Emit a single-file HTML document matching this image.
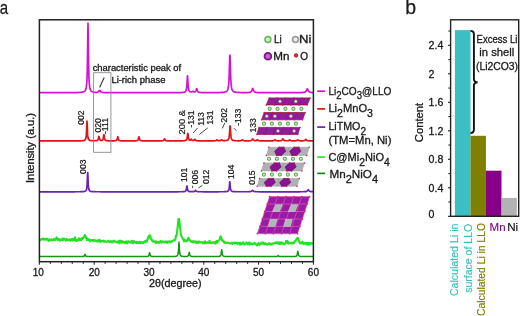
<!DOCTYPE html><html><head><meta charset="utf-8"><style>html,body{margin:0;padding:0;background:#fff;width:520px;height:316px;overflow:hidden}svg{display:block}</style></head><body><svg width="520" height="316" viewBox="0 0 520 316" font-family='"Liberation Sans", Arial, sans-serif'>
<rect width="520" height="316" fill="#fff"/>
<g fill="#1a1a1a" stroke="#1a1a1a" stroke-width="0.25">
<text transform="translate(-0.3,14.0) scale(0.8,1)" font-size="18.8">a</text>
<text x="405.2" y="14.3" font-size="19.5">b</text>
</g>
<polyline fill="none" stroke="#d312d3" stroke-width="1.7" stroke-linejoin="round" points="40.00,92.69 40.25,92.69 40.50,92.69 40.75,92.69 41.00,92.69 41.25,92.69 41.50,92.69 41.75,92.69 42.00,92.69 42.25,92.69 42.50,92.69 42.75,92.69 43.00,92.69 43.25,92.69 43.50,92.69 43.75,92.69 44.00,92.69 44.25,92.69 44.50,92.69 44.75,92.69 45.00,92.69 45.25,92.69 45.50,92.69 45.75,92.69 46.00,92.69 46.25,92.69 46.50,92.69 46.75,92.69 47.00,92.69 47.25,92.69 47.50,92.69 47.75,92.69 48.00,92.69 48.25,92.69 48.50,92.69 48.75,92.69 49.00,92.69 49.25,92.69 49.50,92.69 49.75,92.69 50.00,92.69 50.25,92.69 50.50,92.69 50.75,92.69 51.00,92.69 51.25,92.69 51.50,92.69 51.75,92.68 52.00,92.68 52.25,92.68 52.50,92.68 52.75,92.68 53.00,92.68 53.25,92.68 53.50,92.68 53.75,92.68 54.00,92.68 54.25,92.68 54.50,92.68 54.75,92.68 55.00,92.68 55.25,92.68 55.50,92.68 55.75,92.68 56.00,92.68 56.25,92.68 56.50,92.68 56.75,92.68 57.00,92.68 57.25,92.68 57.50,92.68 57.75,92.68 58.00,92.68 58.25,92.68 58.50,92.68 58.75,92.68 59.00,92.68 59.25,92.68 59.50,92.68 59.75,92.68 60.00,92.68 60.25,92.68 60.50,92.67 60.75,92.67 61.00,92.67 61.25,92.67 61.50,92.67 61.75,92.67 62.00,92.67 62.25,92.67 62.50,92.67 62.75,92.67 63.00,92.67 63.25,92.67 63.50,92.67 63.75,92.67 64.00,92.67 64.25,92.67 64.50,92.67 64.75,92.67 65.00,92.66 65.25,92.66 65.50,92.66 65.75,92.66 66.00,92.66 66.25,92.66 66.50,92.66 66.75,92.66 67.00,92.66 67.25,92.66 67.50,92.66 67.75,92.65 68.00,92.65 68.25,92.65 68.50,92.65 68.75,92.65 69.00,92.65 69.25,92.65 69.50,92.65 69.75,92.64 70.00,92.64 70.25,92.64 70.50,92.64 70.75,92.64 71.00,92.64 71.25,92.63 71.50,92.63 71.75,92.63 72.00,92.63 72.25,92.63 72.50,92.62 72.75,92.62 73.00,92.62 73.25,92.62 73.50,92.61 73.75,92.61 74.00,92.61 74.25,92.60 74.50,92.60 74.75,92.60 75.00,92.59 75.25,92.59 75.50,92.58 75.75,92.58 76.00,92.57 76.25,92.57 76.50,92.56 76.75,92.56 77.00,92.55 77.25,92.54 77.50,92.54 77.75,92.53 78.00,92.52 78.25,92.51 78.50,92.50 78.75,92.49 79.00,92.48 79.25,92.47 79.50,92.45 79.75,92.44 80.00,92.42 80.25,92.41 80.50,92.39 80.75,92.36 81.00,92.34 81.25,92.31 81.50,92.28 81.75,92.25 82.00,92.21 82.25,92.17 82.50,92.12 82.75,92.07 83.00,92.00 83.25,91.93 83.50,91.84 83.75,91.74 84.00,91.62 84.25,91.48 84.50,91.30 84.75,91.08 85.00,90.81 85.25,90.47 85.50,90.02 85.75,89.42 86.00,88.60 86.25,87.44 86.50,85.74 86.75,83.10 87.00,78.79 87.25,71.30 87.50,57.94 87.75,37.09 88.00,23.18 88.25,37.08 88.50,57.93 88.75,71.30 89.00,78.78 89.25,83.10 89.50,85.73 89.75,87.43 90.00,88.59 90.25,89.41 90.50,90.00 90.75,90.45 91.00,90.80 91.25,91.07 91.50,91.28 91.75,91.46 92.00,91.60 92.25,91.72 92.50,91.82 92.75,91.90 93.00,91.97 93.25,92.03 93.50,92.08 93.75,92.13 94.00,92.16 94.25,92.19 94.50,92.22 94.75,92.25 95.00,92.26 95.25,92.28 95.50,92.29 95.75,92.30 96.00,92.30 96.25,92.30 96.50,92.29 96.75,92.28 97.00,92.25 97.25,92.22 97.50,92.18 97.75,92.11 98.00,92.02 98.25,91.89 98.50,91.71 98.75,91.46 99.00,91.12 99.25,90.72 99.50,90.37 99.75,90.28 100.00,90.51 100.25,90.91 100.50,91.30 100.75,91.62 101.00,91.85 101.25,92.02 101.50,92.14 101.75,92.23 102.00,92.30 102.25,92.36 102.50,92.40 102.75,92.43 103.00,92.46 103.25,92.48 103.50,92.50 103.75,92.52 104.00,92.53 104.25,92.55 104.50,92.56 104.75,92.56 105.00,92.57 105.25,92.58 105.50,92.59 105.75,92.59 106.00,92.60 106.25,92.60 106.50,92.61 106.75,92.61 107.00,92.61 107.25,92.62 107.50,92.62 107.75,92.62 108.00,92.63 108.25,92.63 108.50,92.63 108.75,92.63 109.00,92.64 109.25,92.64 109.50,92.64 109.75,92.64 110.00,92.64 110.25,92.65 110.50,92.65 110.75,92.65 111.00,92.65 111.25,92.65 111.50,92.65 111.75,92.65 112.00,92.65 112.25,92.66 112.50,92.66 112.75,92.66 113.00,92.66 113.25,92.66 113.50,92.66 113.75,92.66 114.00,92.66 114.25,92.66 114.50,92.66 114.75,92.66 115.00,92.67 115.25,92.67 115.50,92.67 115.75,92.67 116.00,92.67 116.25,92.67 116.50,92.67 116.75,92.67 117.00,92.67 117.25,92.67 117.50,92.67 117.75,92.67 118.00,92.67 118.25,92.67 118.50,92.67 118.75,92.67 119.00,92.67 119.25,92.67 119.50,92.67 119.75,92.67 120.00,92.68 120.25,92.68 120.50,92.68 120.75,92.68 121.00,92.68 121.25,92.68 121.50,92.68 121.75,92.68 122.00,92.68 122.25,92.68 122.50,92.68 122.75,92.68 123.00,92.68 123.25,92.68 123.50,92.68 123.75,92.68 124.00,92.68 124.25,92.68 124.50,92.68 124.75,92.68 125.00,92.68 125.25,92.68 125.50,92.68 125.75,92.68 126.00,92.68 126.25,92.68 126.50,92.68 126.75,92.68 127.00,92.68 127.25,92.68 127.50,92.68 127.75,92.68 128.00,92.68 128.25,92.68 128.50,92.68 128.75,92.68 129.00,92.68 129.25,92.68 129.50,92.68 129.75,92.68 130.00,92.68 130.25,92.68 130.50,92.68 130.75,92.68 131.00,92.68 131.25,92.68 131.50,92.68 131.75,92.68 132.00,92.68 132.25,92.68 132.50,92.69 132.75,92.69 133.00,92.69 133.25,92.69 133.50,92.69 133.75,92.69 134.00,92.69 134.25,92.69 134.50,92.69 134.75,92.69 135.00,92.69 135.25,92.69 135.50,92.69 135.75,92.69 136.00,92.69 136.25,92.69 136.50,92.69 136.75,92.69 137.00,92.69 137.25,92.69 137.50,92.69 137.75,92.69 138.00,92.69 138.25,92.69 138.50,92.69 138.75,92.69 139.00,92.69 139.25,92.69 139.50,92.69 139.75,92.69 140.00,92.69 140.25,92.69 140.50,92.69 140.75,92.69 141.00,92.69 141.25,92.69 141.50,92.69 141.75,92.69 142.00,92.69 142.25,92.69 142.50,92.69 142.75,92.69 143.00,92.69 143.25,92.69 143.50,92.69 143.75,92.69 144.00,92.69 144.25,92.69 144.50,92.69 144.75,92.69 145.00,92.69 145.25,92.69 145.50,92.69 145.75,92.69 146.00,92.69 146.25,92.69 146.50,92.69 146.75,92.69 147.00,92.69 147.25,92.69 147.50,92.69 147.75,92.69 148.00,92.69 148.25,92.69 148.50,92.69 148.75,92.69 149.00,92.69 149.25,92.69 149.50,92.69 149.75,92.69 150.00,92.69 150.25,92.69 150.50,92.69 150.75,92.69 151.00,92.69 151.25,92.69 151.50,92.69 151.75,92.69 152.00,92.69 152.25,92.69 152.50,92.69 152.75,92.69 153.00,92.69 153.25,92.69 153.50,92.69 153.75,92.69 154.00,92.69 154.25,92.69 154.50,92.69 154.75,92.69 155.00,92.69 155.25,92.69 155.50,92.69 155.75,92.69 156.00,92.69 156.25,92.69 156.50,92.69 156.75,92.68 157.00,92.68 157.25,92.68 157.50,92.68 157.75,92.68 158.00,92.68 158.25,92.68 158.50,92.68 158.75,92.68 159.00,92.68 159.25,92.68 159.50,92.68 159.75,92.68 160.00,92.68 160.25,92.68 160.50,92.68 160.75,92.68 161.00,92.68 161.25,92.68 161.50,92.68 161.75,92.68 162.00,92.68 162.25,92.68 162.50,92.68 162.75,92.68 163.00,92.68 163.25,92.68 163.50,92.68 163.75,92.68 164.00,92.68 164.25,92.68 164.50,92.68 164.75,92.68 165.00,92.68 165.25,92.68 165.50,92.68 165.75,92.68 166.00,92.68 166.25,92.68 166.50,92.68 166.75,92.68 167.00,92.68 167.25,92.68 167.50,92.68 167.75,92.68 168.00,92.67 168.25,92.67 168.50,92.67 168.75,92.67 169.00,92.67 169.25,92.67 169.50,92.67 169.75,92.67 170.00,92.67 170.25,92.67 170.50,92.67 170.75,92.67 171.00,92.67 171.25,92.67 171.50,92.67 171.75,92.67 172.00,92.67 172.25,92.66 172.50,92.66 172.75,92.66 173.00,92.66 173.25,92.66 173.50,92.66 173.75,92.66 174.00,92.66 174.25,92.66 174.50,92.66 174.75,92.65 175.00,92.65 175.25,92.65 175.50,92.65 175.75,92.65 176.00,92.65 176.25,92.64 176.50,92.64 176.75,92.64 177.00,92.64 177.25,92.63 177.50,92.63 177.75,92.63 178.00,92.63 178.25,92.62 178.50,92.62 178.75,92.61 179.00,92.61 179.25,92.61 179.50,92.60 179.75,92.60 180.00,92.59 180.25,92.58 180.50,92.57 180.75,92.57 181.00,92.56 181.25,92.55 181.50,92.54 181.75,92.52 182.00,92.51 182.25,92.49 182.50,92.47 182.75,92.45 183.00,92.42 183.25,92.39 183.50,92.36 183.75,92.32 184.00,92.26 184.25,92.20 184.50,92.12 184.75,92.02 185.00,91.89 185.25,91.72 185.50,91.48 185.75,91.15 186.00,90.68 186.25,89.94 186.50,88.77 186.75,86.81 187.00,83.50 187.25,78.80 187.50,75.94 187.75,78.79 188.00,83.48 188.25,86.78 188.50,88.74 188.75,89.90 189.00,90.62 189.25,91.09 189.50,91.41 189.75,91.62 190.00,91.78 190.25,91.89 190.50,91.96 190.75,92.01 191.00,92.02 191.25,92.02 191.50,91.98 191.75,91.91 192.00,91.79 192.25,91.64 192.50,91.48 192.75,91.39 193.00,91.43 193.25,91.58 193.50,91.74 193.75,91.87 194.00,91.95 194.25,91.99 194.50,91.99 194.75,91.96 195.00,91.87 195.25,91.72 195.50,91.49 195.75,91.12 196.00,90.54 196.25,89.72 196.50,88.87 196.75,88.59 197.00,89.20 197.25,90.12 197.50,90.86 197.75,91.37 198.00,91.71 198.25,91.93 198.50,92.09 198.75,92.20 199.00,92.28 199.25,92.34 199.50,92.39 199.75,92.43 200.00,92.46 200.25,92.48 200.50,92.50 200.75,92.52 201.00,92.53 201.25,92.55 201.50,92.56 201.75,92.57 202.00,92.57 202.25,92.58 202.50,92.59 202.75,92.59 203.00,92.60 203.25,92.60 203.50,92.60 203.75,92.61 204.00,92.61 204.25,92.61 204.50,92.62 204.75,92.62 205.00,92.62 205.25,92.62 205.50,92.62 205.75,92.62 206.00,92.63 206.25,92.63 206.50,92.63 206.75,92.63 207.00,92.63 207.25,92.63 207.50,92.63 207.75,92.63 208.00,92.63 208.25,92.63 208.50,92.63 208.75,92.63 209.00,92.63 209.25,92.63 209.50,92.63 209.75,92.63 210.00,92.63 210.25,92.63 210.50,92.63 210.75,92.63 211.00,92.63 211.25,92.63 211.50,92.63 211.75,92.63 212.00,92.63 212.25,92.63 212.50,92.62 212.75,92.62 213.00,92.62 213.25,92.62 213.50,92.62 213.75,92.62 214.00,92.62 214.25,92.61 214.50,92.61 214.75,92.61 215.00,92.61 215.25,92.61 215.50,92.60 215.75,92.60 216.00,92.60 216.25,92.60 216.50,92.59 216.75,92.59 217.00,92.59 217.25,92.58 217.50,92.58 217.75,92.57 218.00,92.57 218.25,92.57 218.50,92.56 218.75,92.55 219.00,92.55 219.25,92.54 219.50,92.54 219.75,92.53 220.00,92.52 220.25,92.51 220.50,92.50 220.75,92.49 221.00,92.48 221.25,92.47 221.50,92.46 221.75,92.44 222.00,92.43 222.25,92.41 222.50,92.39 222.75,92.37 223.00,92.35 223.25,92.32 223.50,92.29 223.75,92.26 224.00,92.23 224.25,92.18 224.50,92.14 224.75,92.08 225.00,92.02 225.25,91.95 225.50,91.86 225.75,91.77 226.00,91.65 226.25,91.50 226.50,91.33 226.75,91.11 227.00,90.85 227.25,90.50 227.50,90.06 227.75,89.46 228.00,88.65 228.25,87.51 228.50,85.86 228.75,83.37 229.00,79.49 229.25,73.44 229.50,64.76 229.75,56.13 230.00,55.08 230.25,62.84 230.50,71.90 230.75,78.48 231.00,82.72 231.25,85.44 231.50,87.23 231.75,88.46 232.00,89.32 232.25,89.95 232.50,90.42 232.75,90.78 233.00,91.06 233.25,91.29 233.50,91.47 233.75,91.62 234.00,91.74 234.25,91.84 234.50,91.93 234.75,92.00 235.00,92.07 235.25,92.12 235.50,92.17 235.75,92.21 236.00,92.25 236.25,92.28 236.50,92.31 236.75,92.34 237.00,92.36 237.25,92.38 237.50,92.40 237.75,92.42 238.00,92.43 238.25,92.45 238.50,92.46 238.75,92.47 239.00,92.48 239.25,92.49 239.50,92.50 239.75,92.51 240.00,92.52 240.25,92.52 240.50,92.53 240.75,92.53 241.00,92.54 241.25,92.54 241.50,92.55 241.75,92.55 242.00,92.55 242.25,92.56 242.50,92.56 242.75,92.56 243.00,92.56 243.25,92.57 243.50,92.57 243.75,92.57 244.00,92.57 244.25,92.57 244.50,92.57 244.75,92.57 245.00,92.57 245.25,92.57 245.50,92.56 245.75,92.56 246.00,92.56 246.25,92.55 246.50,92.55 246.75,92.54 247.00,92.54 247.25,92.53 247.50,92.52 247.75,92.51 248.00,92.50 248.25,92.48 248.50,92.46 248.75,92.44 249.00,92.42 249.25,92.38 249.50,92.35 249.75,92.30 250.00,92.24 250.25,92.16 250.50,92.06 250.75,91.92 251.00,91.74 251.25,91.49 251.50,91.15 251.75,90.68 252.00,90.05 252.25,89.30 252.50,88.66 252.75,88.48 253.00,88.89 253.25,89.61 253.50,90.32 253.75,90.89 254.00,91.31 254.25,91.61 254.50,91.83 254.75,91.99 255.00,92.11 255.25,92.21 255.50,92.28 255.75,92.33 256.00,92.38 256.25,92.42 256.50,92.45 256.75,92.48 257.00,92.50 257.25,92.52 257.50,92.53 257.75,92.55 258.00,92.56 258.25,92.57 258.50,92.58 258.75,92.59 259.00,92.59 259.25,92.60 259.50,92.60 259.75,92.61 260.00,92.61 260.25,92.62 260.50,92.62 260.75,92.63 261.00,92.63 261.25,92.63 261.50,92.64 261.75,92.64 262.00,92.64 262.25,92.64 262.50,92.65 262.75,92.65 263.00,92.65 263.25,92.65 263.50,92.65 263.75,92.65 264.00,92.66 264.25,92.66 264.50,92.66 264.75,92.66 265.00,92.66 265.25,92.66 265.50,92.66 265.75,92.66 266.00,92.66 266.25,92.66 266.50,92.67 266.75,92.67 267.00,92.67 267.25,92.67 267.50,92.67 267.75,92.67 268.00,92.67 268.25,92.67 268.50,92.67 268.75,92.67 269.00,92.67 269.25,92.67 269.50,92.67 269.75,92.67 270.00,92.67 270.25,92.67 270.50,92.67 270.75,92.67 271.00,92.67 271.25,92.68 271.50,92.68 271.75,92.68 272.00,92.68 272.25,92.68 272.50,92.68 272.75,92.68 273.00,92.68 273.25,92.68 273.50,92.68 273.75,92.68 274.00,92.68 274.25,92.68 274.50,92.68 274.75,92.68 275.00,92.68 275.25,92.68 275.50,92.68 275.75,92.68 276.00,92.68 276.25,92.68 276.50,92.68 276.75,92.68 277.00,92.68 277.25,92.68 277.50,92.68 277.75,92.68 278.00,92.68 278.25,92.68 278.50,92.68 278.75,92.68 279.00,92.68 279.25,92.68 279.50,92.68 279.75,92.68 280.00,92.68 280.25,92.68 280.50,92.68 280.75,92.68 281.00,92.68 281.25,92.68 281.50,92.68 281.75,92.68 282.00,92.68 282.25,92.68 282.50,92.68 282.75,92.68 283.00,92.68 283.25,92.68 283.50,92.68 283.75,92.68 284.00,92.68 284.25,92.68 284.50,92.68 284.75,92.68 285.00,92.68 285.25,92.68 285.50,92.68 285.75,92.68 286.00,92.68 286.25,92.68 286.50,92.68 286.75,92.68 287.00,92.68 287.25,92.68 287.50,92.68 287.75,92.68 288.00,92.68 288.25,92.68 288.50,92.68 288.75,92.68 289.00,92.68 289.25,92.68 289.50,92.68 289.75,92.68 290.00,92.68 290.25,92.68 290.50,92.68 290.75,92.68 291.00,92.67 291.25,92.67 291.50,92.67 291.75,92.67 292.00,92.67 292.25,92.67 292.50,92.67 292.75,92.67 293.00,92.67 293.25,92.67 293.50,92.67 293.75,92.67 294.00,92.67 294.25,92.67 294.50,92.67 294.75,92.66 295.00,92.66 295.25,92.66 295.50,92.66 295.75,92.66 296.00,92.66 296.25,92.66 296.50,92.65 296.75,92.65 297.00,92.65 297.25,92.65 297.50,92.65 297.75,92.64 298.00,92.64 298.25,92.64 298.50,92.64 298.75,92.63 299.00,92.63 299.25,92.62 299.50,92.62 299.75,92.62 300.00,92.61 300.25,92.60 300.50,92.60 300.75,92.59 301.00,92.58 301.25,92.57 301.50,92.56 301.75,92.55 302.00,92.54 302.25,92.52 302.50,92.50 302.75,92.48 303.00,92.46 303.25,92.43 303.50,92.40 303.75,92.36 304.00,92.31 304.25,92.26 304.50,92.19 304.75,92.10 305.00,91.99 305.25,91.85 305.50,91.66 305.75,91.42 306.00,91.11 306.25,90.71 306.50,90.21 306.75,89.66 307.00,89.16 307.25,88.90 307.50,89.02 307.75,89.44 308.00,89.99 308.25,90.52 308.50,90.96 308.75,91.31 309.00,91.57 309.25,91.78 309.50,91.94 309.75,92.06 310.00,92.15 310.25,92.23 310.50,92.29 310.75,92.34 311.00,92.39 311.25,92.42 311.50,92.45 311.75,92.48 312.00,92.50 312.25,92.52 312.50,92.53 312.75,92.55 313.00,92.56"/>
<polyline fill="none" stroke="#dd1515" stroke-width="1.7" stroke-linejoin="round" points="40.00,140.90 40.25,140.90 40.50,140.90 40.75,140.90 41.00,140.90 41.25,140.90 41.50,140.90 41.75,140.90 42.00,140.90 42.25,140.90 42.50,140.90 42.75,140.90 43.00,140.90 43.25,140.90 43.50,140.90 43.75,140.90 44.00,140.90 44.25,140.90 44.50,140.90 44.75,140.90 45.00,140.90 45.25,140.90 45.50,140.90 45.75,140.90 46.00,140.90 46.25,140.90 46.50,140.90 46.75,140.90 47.00,140.90 47.25,140.90 47.50,140.90 47.75,140.90 48.00,140.90 48.25,140.90 48.50,140.90 48.75,140.90 49.00,140.90 49.25,140.90 49.50,140.90 49.75,140.90 50.00,140.90 50.25,140.90 50.50,140.90 50.75,140.89 51.00,140.89 51.25,140.89 51.50,140.89 51.75,140.89 52.00,140.89 52.25,140.89 52.50,140.89 52.75,140.89 53.00,140.89 53.25,140.89 53.50,140.89 53.75,140.89 54.00,140.89 54.25,140.89 54.50,140.89 54.75,140.89 55.00,140.89 55.25,140.89 55.50,140.89 55.75,140.89 56.00,140.89 56.25,140.89 56.50,140.89 56.75,140.89 57.00,140.89 57.25,140.89 57.50,140.89 57.75,140.89 58.00,140.89 58.25,140.89 58.50,140.89 58.75,140.89 59.00,140.89 59.25,140.89 59.50,140.89 59.75,140.89 60.00,140.89 60.25,140.89 60.50,140.89 60.75,140.89 61.00,140.89 61.25,140.89 61.50,140.89 61.75,140.89 62.00,140.89 62.25,140.89 62.50,140.89 62.75,140.89 63.00,140.89 63.25,140.89 63.50,140.89 63.75,140.89 64.00,140.89 64.25,140.89 64.50,140.89 64.75,140.89 65.00,140.89 65.25,140.89 65.50,140.89 65.75,140.89 66.00,140.89 66.25,140.89 66.50,140.89 66.75,140.89 67.00,140.89 67.25,140.89 67.50,140.89 67.75,140.89 68.00,140.89 68.25,140.88 68.50,140.88 68.75,140.88 69.00,140.88 69.25,140.88 69.50,140.88 69.75,140.88 70.00,140.88 70.25,140.88 70.50,140.88 70.75,140.88 71.00,140.88 71.25,140.88 71.50,140.88 71.75,140.88 72.00,140.88 72.25,140.88 72.50,140.88 72.75,140.88 73.00,140.87 73.25,140.87 73.50,140.87 73.75,140.87 74.00,140.87 74.25,140.87 74.50,140.87 74.75,140.87 75.00,140.87 75.25,140.87 75.50,140.86 75.75,140.86 76.00,140.86 76.25,140.86 76.50,140.86 76.75,140.86 77.00,140.85 77.25,140.85 77.50,140.85 77.75,140.85 78.00,140.84 78.25,140.84 78.50,140.84 78.75,140.83 79.00,140.83 79.25,140.83 79.50,140.82 79.75,140.82 80.00,140.81 80.25,140.80 80.50,140.80 80.75,140.79 81.00,140.78 81.25,140.77 81.50,140.76 81.75,140.75 82.00,140.73 82.25,140.72 82.50,140.70 82.75,140.67 83.00,140.64 83.25,140.61 83.50,140.57 83.75,140.52 84.00,140.46 84.25,140.37 84.50,140.27 84.75,140.13 85.00,139.94 85.25,139.67 85.50,139.26 85.75,138.63 86.00,137.57 86.25,135.67 86.50,132.07 86.75,125.83 87.00,121.18 87.25,125.83 87.50,132.07 87.75,135.67 88.00,137.56 88.25,138.62 88.50,139.25 88.75,139.66 89.00,139.93 89.25,140.12 89.50,140.26 89.75,140.36 90.00,140.44 90.25,140.50 90.50,140.55 90.75,140.59 91.00,140.62 91.25,140.65 91.50,140.67 91.75,140.69 92.00,140.70 92.25,140.71 92.50,140.72 92.75,140.73 93.00,140.74 93.25,140.74 93.50,140.75 93.75,140.75 94.00,140.75 94.25,140.75 94.50,140.75 94.75,140.74 95.00,140.74 95.25,140.73 95.50,140.72 95.75,140.70 96.00,140.69 96.25,140.66 96.50,140.63 96.75,140.58 97.00,140.52 97.25,140.43 97.50,140.29 97.75,140.07 98.00,139.71 98.25,139.07 98.50,137.94 98.75,136.49 99.00,136.28 99.25,137.64 99.50,138.86 99.75,139.57 100.00,139.96 100.25,140.19 100.50,140.32 100.75,140.39 101.00,140.43 101.25,140.45 101.50,140.44 101.75,140.40 102.00,140.34 102.25,140.23 102.50,140.05 102.75,139.77 103.00,139.28 103.25,138.40 103.50,136.86 103.75,134.87 104.00,134.58 104.25,136.48 104.50,138.18 104.75,139.17 105.00,139.73 105.25,140.07 105.50,140.27 105.75,140.41 106.00,140.51 106.25,140.58 106.50,140.63 106.75,140.67 107.00,140.70 107.25,140.72 107.50,140.74 107.75,140.76 108.00,140.77 108.25,140.78 108.50,140.79 108.75,140.80 109.00,140.80 109.25,140.81 109.50,140.81 109.75,140.82 110.00,140.82 110.25,140.82 110.50,140.82 110.75,140.83 111.00,140.83 111.25,140.83 111.50,140.83 111.75,140.83 112.00,140.83 112.25,140.83 112.50,140.83 112.75,140.82 113.00,140.82 113.25,140.82 113.50,140.81 113.75,140.81 114.00,140.80 114.25,140.79 114.50,140.78 114.75,140.76 115.00,140.74 115.25,140.72 115.50,140.69 115.75,140.64 116.00,140.58 116.25,140.48 116.50,140.34 116.75,140.10 117.00,139.70 117.25,138.98 117.50,137.79 117.75,136.72 118.00,137.26 118.25,138.56 118.50,139.46 118.75,139.97 119.00,140.26 119.25,140.44 119.50,140.55 119.75,140.62 120.00,140.68 120.25,140.72 120.50,140.74 120.75,140.77 121.00,140.78 121.25,140.80 121.50,140.81 121.75,140.82 122.00,140.83 122.25,140.83 122.50,140.84 122.75,140.84 123.00,140.85 123.25,140.85 123.50,140.85 123.75,140.86 124.00,140.86 124.25,140.86 124.50,140.86 124.75,140.86 125.00,140.86 125.25,140.87 125.50,140.87 125.75,140.87 126.00,140.87 126.25,140.87 126.50,140.87 126.75,140.87 127.00,140.87 127.25,140.87 127.50,140.87 127.75,140.87 128.00,140.87 128.25,140.87 128.50,140.87 128.75,140.87 129.00,140.87 129.25,140.87 129.50,140.87 129.75,140.87 130.00,140.87 130.25,140.87 130.50,140.87 130.75,140.87 131.00,140.87 131.25,140.87 131.50,140.87 131.75,140.87 132.00,140.87 132.25,140.86 132.50,140.86 132.75,140.86 133.00,140.86 133.25,140.86 133.50,140.85 133.75,140.85 134.00,140.85 134.25,140.84 134.50,140.84 134.75,140.83 135.00,140.82 135.25,140.81 135.50,140.80 135.75,140.79 136.00,140.77 136.25,140.75 136.50,140.72 136.75,140.67 137.00,140.62 137.25,140.54 137.50,140.42 137.75,140.22 138.00,139.90 138.25,139.33 138.50,138.33 138.75,137.04 139.00,136.85 139.25,138.07 139.50,139.17 139.75,139.81 140.00,140.17 140.25,140.38 140.50,140.52 140.75,140.61 141.00,140.67 141.25,140.71 141.50,140.74 141.75,140.77 142.00,140.78 142.25,140.80 142.50,140.81 142.75,140.82 143.00,140.83 143.25,140.84 143.50,140.84 143.75,140.85 144.00,140.85 144.25,140.85 144.50,140.86 144.75,140.86 145.00,140.86 145.25,140.87 145.50,140.87 145.75,140.87 146.00,140.87 146.25,140.87 146.50,140.87 146.75,140.87 147.00,140.87 147.25,140.88 147.50,140.88 147.75,140.88 148.00,140.88 148.25,140.88 148.50,140.88 148.75,140.88 149.00,140.88 149.25,140.88 149.50,140.88 149.75,140.88 150.00,140.88 150.25,140.88 150.50,140.88 150.75,140.88 151.00,140.88 151.25,140.88 151.50,140.88 151.75,140.88 152.00,140.88 152.25,140.88 152.50,140.88 152.75,140.88 153.00,140.88 153.25,140.88 153.50,140.88 153.75,140.88 154.00,140.88 154.25,140.88 154.50,140.88 154.75,140.88 155.00,140.88 155.25,140.88 155.50,140.88 155.75,140.88 156.00,140.88 156.25,140.88 156.50,140.88 156.75,140.88 157.00,140.88 157.25,140.88 157.50,140.88 157.75,140.87 158.00,140.87 158.25,140.87 158.50,140.87 158.75,140.87 159.00,140.87 159.25,140.86 159.50,140.86 159.75,140.86 160.00,140.85 160.25,140.85 160.50,140.85 160.75,140.84 161.00,140.83 161.25,140.82 161.50,140.81 161.75,140.80 162.00,140.78 162.25,140.76 162.50,140.72 162.75,140.68 163.00,140.61 163.25,140.51 163.50,140.36 163.75,140.11 164.00,139.71 164.25,139.19 164.50,138.89 164.75,139.18 165.00,139.71 165.25,140.11 165.50,140.36 165.75,140.51 166.00,140.61 166.25,140.68 166.50,140.72 166.75,140.76 167.00,140.78 167.25,140.80 167.50,140.81 167.75,140.82 168.00,140.83 168.25,140.84 168.50,140.84 168.75,140.85 169.00,140.85 169.25,140.86 169.50,140.86 169.75,140.86 170.00,140.86 170.25,140.86 170.50,140.87 170.75,140.87 171.00,140.87 171.25,140.87 171.50,140.87 171.75,140.87 172.00,140.87 172.25,140.87 172.50,140.87 172.75,140.87 173.00,140.87 173.25,140.87 173.50,140.87 173.75,140.87 174.00,140.87 174.25,140.87 174.50,140.87 174.75,140.87 175.00,140.87 175.25,140.87 175.50,140.87 175.75,140.87 176.00,140.87 176.25,140.87 176.50,140.87 176.75,140.87 177.00,140.87 177.25,140.87 177.50,140.86 177.75,140.86 178.00,140.86 178.25,140.86 178.50,140.86 178.75,140.86 179.00,140.86 179.25,140.85 179.50,140.85 179.75,140.85 180.00,140.85 180.25,140.85 180.50,140.84 180.75,140.84 181.00,140.84 181.25,140.83 181.50,140.83 181.75,140.82 182.00,140.82 182.25,140.81 182.50,140.80 182.75,140.79 183.00,140.78 183.25,140.77 183.50,140.76 183.75,140.74 184.00,140.72 184.25,140.70 184.50,140.67 184.75,140.64 185.00,140.60 185.25,140.54 185.50,140.47 185.75,140.37 186.00,140.23 186.25,140.03 186.50,139.72 186.75,139.24 187.00,138.45 187.25,137.10 187.50,135.07 187.75,133.40 188.00,134.21 188.25,136.33 188.50,137.95 188.75,138.92 189.00,139.48 189.25,139.81 189.50,140.01 189.75,140.12 190.00,140.16 190.25,140.14 190.50,140.03 190.75,139.79 191.00,139.44 191.25,139.18 191.50,139.33 191.75,139.73 192.00,140.06 192.25,140.27 192.50,140.40 192.75,140.46 193.00,140.49 193.25,140.49 193.50,140.46 193.75,140.37 194.00,140.22 194.25,139.96 194.50,139.59 194.75,139.31 195.00,139.46 195.25,139.86 195.50,140.19 195.75,140.40 196.00,140.53 196.25,140.62 196.50,140.68 196.75,140.71 197.00,140.74 197.25,140.77 197.50,140.78 197.75,140.80 198.00,140.81 198.25,140.81 198.50,140.82 198.75,140.83 199.00,140.83 199.25,140.84 199.50,140.84 199.75,140.84 200.00,140.85 200.25,140.85 200.50,140.85 200.75,140.85 201.00,140.86 201.25,140.86 201.50,140.86 201.75,140.86 202.00,140.86 202.25,140.86 202.50,140.86 202.75,140.86 203.00,140.87 203.25,140.87 203.50,140.87 203.75,140.87 204.00,140.87 204.25,140.87 204.50,140.87 204.75,140.87 205.00,140.87 205.25,140.87 205.50,140.87 205.75,140.87 206.00,140.87 206.25,140.87 206.50,140.87 206.75,140.87 207.00,140.87 207.25,140.87 207.50,140.87 207.75,140.87 208.00,140.87 208.25,140.87 208.50,140.87 208.75,140.87 209.00,140.87 209.25,140.87 209.50,140.87 209.75,140.86 210.00,140.86 210.25,140.86 210.50,140.86 210.75,140.86 211.00,140.86 211.25,140.86 211.50,140.86 211.75,140.85 212.00,140.85 212.25,140.85 212.50,140.85 212.75,140.84 213.00,140.84 213.25,140.83 213.50,140.83 213.75,140.82 214.00,140.81 214.25,140.80 214.50,140.79 214.75,140.77 215.00,140.75 215.25,140.72 215.50,140.68 215.75,140.62 216.00,140.52 216.25,140.38 216.50,140.18 216.75,139.96 217.00,139.84 217.25,139.95 217.50,140.17 217.75,140.36 218.00,140.49 218.25,140.58 218.50,140.63 218.75,140.66 219.00,140.67 219.25,140.68 219.50,140.67 219.75,140.65 220.00,140.62 220.25,140.56 220.50,140.47 220.75,140.34 221.00,140.14 221.25,139.92 221.50,139.81 221.75,139.92 222.00,140.14 222.25,140.33 222.50,140.47 222.75,140.55 223.00,140.61 223.25,140.64 223.50,140.66 223.75,140.68 224.00,140.68 224.25,140.69 224.50,140.68 224.75,140.68 225.00,140.67 225.25,140.65 225.50,140.64 225.75,140.61 226.00,140.59 226.25,140.55 226.50,140.51 226.75,140.46 227.00,140.39 227.25,140.31 227.50,140.21 227.75,140.06 228.00,139.87 228.25,139.61 228.50,139.23 228.75,138.66 229.00,137.76 229.25,136.28 229.50,133.76 229.75,129.78 230.00,125.78 230.25,126.36 230.50,130.68 230.75,134.37 231.00,136.64 231.25,137.98 231.50,138.80 231.75,139.32 232.00,139.68 232.25,139.92 232.50,140.10 232.75,140.24 233.00,140.34 233.25,140.42 233.50,140.48 233.75,140.53 234.00,140.58 234.25,140.61 234.50,140.64 234.75,140.66 235.00,140.69 235.25,140.70 235.50,140.72 235.75,140.73 236.00,140.74 236.25,140.75 236.50,140.76 236.75,140.77 237.00,140.77 237.25,140.78 237.50,140.78 237.75,140.78 238.00,140.79 238.25,140.79 238.50,140.79 238.75,140.79 239.00,140.78 239.25,140.78 239.50,140.77 239.75,140.77 240.00,140.75 240.25,140.74 240.50,140.71 240.75,140.67 241.00,140.62 241.25,140.54 241.50,140.41 241.75,140.23 242.00,140.01 242.25,139.86 242.50,139.93 242.75,140.15 243.00,140.35 243.25,140.50 243.50,140.60 243.75,140.67 244.00,140.71 244.25,140.74 244.50,140.76 244.75,140.78 245.00,140.79 245.25,140.80 245.50,140.81 245.75,140.81 246.00,140.82 246.25,140.82 246.50,140.82 246.75,140.82 247.00,140.82 247.25,140.82 247.50,140.82 247.75,140.82 248.00,140.82 248.25,140.81 248.50,140.81 248.75,140.80 249.00,140.80 249.25,140.79 249.50,140.77 249.75,140.76 250.00,140.74 250.25,140.72 250.50,140.68 250.75,140.64 251.00,140.58 251.25,140.49 251.50,140.36 251.75,140.16 252.00,139.86 252.25,139.45 252.50,139.01 252.75,138.87 253.00,139.17 253.25,139.62 253.50,139.98 253.75,140.23 254.00,140.39 254.25,140.50 254.50,140.57 254.75,140.61 255.00,140.64 255.25,140.65 255.50,140.65 255.75,140.63 256.00,140.60 256.25,140.54 256.50,140.44 256.75,140.29 257.00,140.08 257.25,139.88 257.50,139.86 257.75,140.05 258.00,140.27 258.25,140.45 258.50,140.57 258.75,140.65 259.00,140.70 259.25,140.74 259.50,140.77 259.75,140.79 260.00,140.80 260.25,140.81 260.50,140.82 260.75,140.83 261.00,140.84 261.25,140.84 261.50,140.85 261.75,140.85 262.00,140.85 262.25,140.85 262.50,140.86 262.75,140.86 263.00,140.86 263.25,140.86 263.50,140.86 263.75,140.87 264.00,140.87 264.25,140.87 264.50,140.87 264.75,140.87 265.00,140.87 265.25,140.87 265.50,140.87 265.75,140.87 266.00,140.87 266.25,140.87 266.50,140.87 266.75,140.87 267.00,140.87 267.25,140.87 267.50,140.87 267.75,140.87 268.00,140.87 268.25,140.87 268.50,140.87 268.75,140.87 269.00,140.87 269.25,140.87 269.50,140.86 269.75,140.86 270.00,140.86 270.25,140.86 270.50,140.86 270.75,140.85 271.00,140.85 271.25,140.85 271.50,140.84 271.75,140.84 272.00,140.83 272.25,140.82 272.50,140.81 272.75,140.79 273.00,140.77 273.25,140.74 273.50,140.70 273.75,140.64 274.00,140.55 274.25,140.41 274.50,140.21 274.75,139.99 275.00,139.87 275.25,139.98 275.50,140.21 275.75,140.40 276.00,140.54 276.25,140.63 276.50,140.69 276.75,140.72 277.00,140.75 277.25,140.77 277.50,140.78 277.75,140.79 278.00,140.79 278.25,140.80 278.50,140.80 278.75,140.80 279.00,140.79 279.25,140.79 279.50,140.78 279.75,140.77 280.00,140.75 280.25,140.73 280.50,140.70 280.75,140.66 281.00,140.61 281.25,140.53 281.50,140.42 281.75,140.26 282.00,140.01 282.25,139.64 282.50,139.18 282.75,138.88 283.00,139.02 283.25,139.46 283.50,139.87 283.75,140.17 284.00,140.36 284.25,140.49 284.50,140.58 284.75,140.64 285.00,140.68 285.25,140.71 285.50,140.73 285.75,140.75 286.00,140.76 286.25,140.77 286.50,140.77 286.75,140.77 287.00,140.77 287.25,140.76 287.50,140.75 287.75,140.73 288.00,140.71 288.25,140.66 288.50,140.60 288.75,140.51 289.00,140.36 289.25,140.15 289.50,139.94 289.75,139.87 290.00,140.02 290.25,140.25 290.50,140.43 290.75,140.56 291.00,140.64 291.25,140.70 291.50,140.73 291.75,140.76 292.00,140.78 292.25,140.79 292.50,140.80 292.75,140.81 293.00,140.82 293.25,140.82 293.50,140.82 293.75,140.82 294.00,140.82 294.25,140.82 294.50,140.82 294.75,140.81 295.00,140.81 295.25,140.80 295.50,140.78 295.75,140.77 296.00,140.74 296.25,140.70 296.50,140.65 296.75,140.56 297.00,140.44 297.25,140.25 297.50,140.03 297.75,139.88 298.00,139.95 298.25,140.17 298.50,140.37 298.75,140.52 299.00,140.62 299.25,140.68 299.50,140.72 299.75,140.75 300.00,140.78 300.25,140.79 300.50,140.80 300.75,140.81 301.00,140.81 301.25,140.82 301.50,140.82 301.75,140.82 302.00,140.81 302.25,140.81 302.50,140.81 302.75,140.80 303.00,140.79 303.25,140.77 303.50,140.75 303.75,140.72 304.00,140.68 304.25,140.63 304.50,140.54 304.75,140.42 305.00,140.23 305.25,139.96 305.50,139.62 305.75,139.39 306.00,139.50 306.25,139.83 306.50,140.14 306.75,140.36 307.00,140.51 307.25,140.61 307.50,140.67 307.75,140.72 308.00,140.75 308.25,140.78 308.50,140.80 308.75,140.81 309.00,140.82 309.25,140.83 309.50,140.84 309.75,140.85 310.00,140.85 310.25,140.86 310.50,140.86 310.75,140.86 311.00,140.87 311.25,140.87 311.50,140.87 311.75,140.87 312.00,140.87 312.25,140.88 312.50,140.88 312.75,140.88 313.00,140.88"/>
<polyline fill="none" stroke="#6c22b0" stroke-width="1.7" stroke-linejoin="round" points="40.00,191.80 40.25,191.80 40.50,191.80 40.75,191.80 41.00,191.80 41.25,191.80 41.50,191.80 41.75,191.80 42.00,191.80 42.25,191.80 42.50,191.80 42.75,191.80 43.00,191.80 43.25,191.80 43.50,191.80 43.75,191.80 44.00,191.80 44.25,191.80 44.50,191.80 44.75,191.80 45.00,191.80 45.25,191.80 45.50,191.80 45.75,191.80 46.00,191.80 46.25,191.80 46.50,191.80 46.75,191.80 47.00,191.80 47.25,191.80 47.50,191.80 47.75,191.80 48.00,191.80 48.25,191.80 48.50,191.80 48.75,191.80 49.00,191.80 49.25,191.80 49.50,191.80 49.75,191.80 50.00,191.80 50.25,191.80 50.50,191.80 50.75,191.80 51.00,191.80 51.25,191.80 51.50,191.80 51.75,191.80 52.00,191.80 52.25,191.80 52.50,191.80 52.75,191.80 53.00,191.80 53.25,191.80 53.50,191.80 53.75,191.80 54.00,191.80 54.25,191.80 54.50,191.80 54.75,191.80 55.00,191.80 55.25,191.80 55.50,191.80 55.75,191.80 56.00,191.80 56.25,191.80 56.50,191.80 56.75,191.80 57.00,191.80 57.25,191.80 57.50,191.80 57.75,191.80 58.00,191.80 58.25,191.80 58.50,191.80 58.75,191.80 59.00,191.79 59.25,191.79 59.50,191.79 59.75,191.79 60.00,191.79 60.25,191.79 60.50,191.79 60.75,191.79 61.00,191.79 61.25,191.79 61.50,191.79 61.75,191.79 62.00,191.79 62.25,191.79 62.50,191.79 62.75,191.79 63.00,191.79 63.25,191.79 63.50,191.79 63.75,191.79 64.00,191.79 64.25,191.79 64.50,191.79 64.75,191.79 65.00,191.79 65.25,191.79 65.50,191.79 65.75,191.79 66.00,191.79 66.25,191.79 66.50,191.79 66.75,191.79 67.00,191.79 67.25,191.79 67.50,191.79 67.75,191.79 68.00,191.79 68.25,191.79 68.50,191.79 68.75,191.79 69.00,191.79 69.25,191.79 69.50,191.79 69.75,191.79 70.00,191.79 70.25,191.79 70.50,191.79 70.75,191.79 71.00,191.79 71.25,191.79 71.50,191.78 71.75,191.78 72.00,191.78 72.25,191.78 72.50,191.78 72.75,191.78 73.00,191.78 73.25,191.78 73.50,191.78 73.75,191.78 74.00,191.78 74.25,191.78 74.50,191.78 74.75,191.78 75.00,191.78 75.25,191.77 75.50,191.77 75.75,191.77 76.00,191.77 76.25,191.77 76.50,191.77 76.75,191.77 77.00,191.77 77.25,191.76 77.50,191.76 77.75,191.76 78.00,191.76 78.25,191.76 78.50,191.75 78.75,191.75 79.00,191.75 79.25,191.74 79.50,191.74 79.75,191.74 80.00,191.73 80.25,191.73 80.50,191.72 80.75,191.72 81.00,191.71 81.25,191.71 81.50,191.70 81.75,191.69 82.00,191.68 82.25,191.67 82.50,191.65 82.75,191.64 83.00,191.62 83.25,191.60 83.50,191.58 83.75,191.55 84.00,191.52 84.25,191.47 84.50,191.42 84.75,191.36 85.00,191.27 85.25,191.16 85.50,191.02 85.75,190.81 86.00,190.52 86.25,190.09 86.50,189.40 86.75,188.23 87.00,186.10 87.25,182.05 87.50,175.52 87.75,172.54 88.00,178.30 88.25,183.98 88.50,187.11 88.75,188.77 89.00,189.71 89.25,190.28 89.50,190.65 89.75,190.90 90.00,191.08 90.25,191.21 90.50,191.31 90.75,191.38 91.00,191.44 91.25,191.49 91.50,191.53 91.75,191.56 92.00,191.59 92.25,191.61 92.50,191.63 92.75,191.65 93.00,191.66 93.25,191.67 93.50,191.68 93.75,191.69 94.00,191.70 94.25,191.71 94.50,191.71 94.75,191.72 95.00,191.73 95.25,191.73 95.50,191.73 95.75,191.74 96.00,191.74 96.25,191.75 96.50,191.75 96.75,191.75 97.00,191.75 97.25,191.76 97.50,191.76 97.75,191.76 98.00,191.76 98.25,191.76 98.50,191.77 98.75,191.77 99.00,191.77 99.25,191.77 99.50,191.77 99.75,191.77 100.00,191.77 100.25,191.77 100.50,191.78 100.75,191.78 101.00,191.78 101.25,191.78 101.50,191.78 101.75,191.78 102.00,191.78 102.25,191.78 102.50,191.78 102.75,191.78 103.00,191.78 103.25,191.78 103.50,191.78 103.75,191.78 104.00,191.78 104.25,191.79 104.50,191.79 104.75,191.79 105.00,191.79 105.25,191.79 105.50,191.79 105.75,191.79 106.00,191.79 106.25,191.79 106.50,191.79 106.75,191.79 107.00,191.79 107.25,191.79 107.50,191.79 107.75,191.79 108.00,191.79 108.25,191.79 108.50,191.79 108.75,191.79 109.00,191.79 109.25,191.79 109.50,191.79 109.75,191.79 110.00,191.79 110.25,191.79 110.50,191.79 110.75,191.79 111.00,191.79 111.25,191.79 111.50,191.79 111.75,191.79 112.00,191.79 112.25,191.79 112.50,191.79 112.75,191.79 113.00,191.79 113.25,191.79 113.50,191.79 113.75,191.79 114.00,191.79 114.25,191.79 114.50,191.79 114.75,191.79 115.00,191.79 115.25,191.79 115.50,191.79 115.75,191.79 116.00,191.79 116.25,191.79 116.50,191.79 116.75,191.79 117.00,191.79 117.25,191.79 117.50,191.79 117.75,191.79 118.00,191.79 118.25,191.80 118.50,191.80 118.75,191.80 119.00,191.80 119.25,191.80 119.50,191.80 119.75,191.80 120.00,191.80 120.25,191.80 120.50,191.80 120.75,191.80 121.00,191.80 121.25,191.80 121.50,191.80 121.75,191.80 122.00,191.80 122.25,191.80 122.50,191.80 122.75,191.80 123.00,191.80 123.25,191.80 123.50,191.80 123.75,191.80 124.00,191.80 124.25,191.80 124.50,191.80 124.75,191.80 125.00,191.80 125.25,191.80 125.50,191.80 125.75,191.80 126.00,191.80 126.25,191.80 126.50,191.80 126.75,191.80 127.00,191.80 127.25,191.80 127.50,191.80 127.75,191.80 128.00,191.80 128.25,191.80 128.50,191.80 128.75,191.80 129.00,191.80 129.25,191.80 129.50,191.80 129.75,191.80 130.00,191.80 130.25,191.80 130.50,191.80 130.75,191.80 131.00,191.80 131.25,191.80 131.50,191.80 131.75,191.80 132.00,191.80 132.25,191.80 132.50,191.80 132.75,191.80 133.00,191.80 133.25,191.80 133.50,191.80 133.75,191.80 134.00,191.80 134.25,191.80 134.50,191.80 134.75,191.80 135.00,191.80 135.25,191.80 135.50,191.80 135.75,191.80 136.00,191.80 136.25,191.80 136.50,191.80 136.75,191.80 137.00,191.80 137.25,191.80 137.50,191.80 137.75,191.80 138.00,191.80 138.25,191.80 138.50,191.80 138.75,191.80 139.00,191.80 139.25,191.80 139.50,191.80 139.75,191.80 140.00,191.80 140.25,191.80 140.50,191.80 140.75,191.80 141.00,191.80 141.25,191.80 141.50,191.80 141.75,191.80 142.00,191.80 142.25,191.80 142.50,191.80 142.75,191.80 143.00,191.80 143.25,191.80 143.50,191.80 143.75,191.80 144.00,191.80 144.25,191.80 144.50,191.80 144.75,191.80 145.00,191.80 145.25,191.80 145.50,191.80 145.75,191.80 146.00,191.80 146.25,191.80 146.50,191.80 146.75,191.80 147.00,191.80 147.25,191.80 147.50,191.80 147.75,191.80 148.00,191.80 148.25,191.80 148.50,191.80 148.75,191.80 149.00,191.80 149.25,191.80 149.50,191.80 149.75,191.80 150.00,191.80 150.25,191.80 150.50,191.80 150.75,191.80 151.00,191.80 151.25,191.80 151.50,191.80 151.75,191.80 152.00,191.80 152.25,191.80 152.50,191.80 152.75,191.80 153.00,191.80 153.25,191.80 153.50,191.80 153.75,191.80 154.00,191.80 154.25,191.80 154.50,191.80 154.75,191.80 155.00,191.80 155.25,191.80 155.50,191.80 155.75,191.80 156.00,191.80 156.25,191.80 156.50,191.80 156.75,191.80 157.00,191.80 157.25,191.80 157.50,191.80 157.75,191.80 158.00,191.80 158.25,191.80 158.50,191.80 158.75,191.80 159.00,191.80 159.25,191.80 159.50,191.80 159.75,191.80 160.00,191.80 160.25,191.80 160.50,191.80 160.75,191.80 161.00,191.80 161.25,191.80 161.50,191.80 161.75,191.80 162.00,191.80 162.25,191.80 162.50,191.80 162.75,191.80 163.00,191.80 163.25,191.80 163.50,191.80 163.75,191.80 164.00,191.79 164.25,191.79 164.50,191.79 164.75,191.79 165.00,191.79 165.25,191.79 165.50,191.79 165.75,191.79 166.00,191.79 166.25,191.79 166.50,191.79 166.75,191.79 167.00,191.79 167.25,191.79 167.50,191.79 167.75,191.79 168.00,191.79 168.25,191.79 168.50,191.79 168.75,191.79 169.00,191.79 169.25,191.79 169.50,191.79 169.75,191.79 170.00,191.79 170.25,191.79 170.50,191.79 170.75,191.79 171.00,191.79 171.25,191.79 171.50,191.79 171.75,191.79 172.00,191.79 172.25,191.79 172.50,191.79 172.75,191.79 173.00,191.79 173.25,191.79 173.50,191.79 173.75,191.79 174.00,191.79 174.25,191.79 174.50,191.79 174.75,191.79 175.00,191.79 175.25,191.79 175.50,191.79 175.75,191.78 176.00,191.78 176.25,191.78 176.50,191.78 176.75,191.78 177.00,191.78 177.25,191.78 177.50,191.78 177.75,191.78 178.00,191.78 178.25,191.78 178.50,191.77 178.75,191.77 179.00,191.77 179.25,191.77 179.50,191.77 179.75,191.77 180.00,191.76 180.25,191.76 180.50,191.76 180.75,191.76 181.00,191.75 181.25,191.75 181.50,191.74 181.75,191.74 182.00,191.73 182.25,191.73 182.50,191.72 182.75,191.71 183.00,191.70 183.25,191.68 183.50,191.67 183.75,191.65 184.00,191.62 184.25,191.59 184.50,191.54 184.75,191.48 185.00,191.40 185.25,191.29 185.50,191.11 185.75,190.84 186.00,190.37 186.25,189.56 186.50,188.13 186.75,186.28 187.00,186.02 187.25,187.76 187.50,189.33 187.75,190.24 188.00,190.76 188.25,191.06 188.50,191.25 188.75,191.37 189.00,191.46 189.25,191.52 189.50,191.56 189.75,191.60 190.00,191.62 190.25,191.64 190.50,191.66 190.75,191.67 191.00,191.67 191.25,191.68 191.50,191.68 191.75,191.68 192.00,191.68 192.25,191.68 192.50,191.67 192.75,191.66 193.00,191.65 193.25,191.63 193.50,191.60 193.75,191.56 194.00,191.50 194.25,191.41 194.50,191.28 194.75,191.07 195.00,190.78 195.25,190.45 195.50,190.28 195.75,190.45 196.00,190.79 196.25,191.08 196.50,191.29 196.75,191.42 197.00,191.51 197.25,191.58 197.50,191.62 197.75,191.65 198.00,191.68 198.25,191.69 198.50,191.71 198.75,191.72 199.00,191.73 199.25,191.74 199.50,191.74 199.75,191.75 200.00,191.75 200.25,191.76 200.50,191.76 200.75,191.76 201.00,191.76 201.25,191.77 201.50,191.77 201.75,191.77 202.00,191.77 202.25,191.77 202.50,191.77 202.75,191.78 203.00,191.78 203.25,191.78 203.50,191.78 203.75,191.78 204.00,191.78 204.25,191.78 204.50,191.78 204.75,191.78 205.00,191.78 205.25,191.78 205.50,191.78 205.75,191.78 206.00,191.78 206.25,191.78 206.50,191.78 206.75,191.78 207.00,191.79 207.25,191.79 207.50,191.79 207.75,191.79 208.00,191.79 208.25,191.79 208.50,191.79 208.75,191.79 209.00,191.79 209.25,191.79 209.50,191.79 209.75,191.79 210.00,191.79 210.25,191.79 210.50,191.79 210.75,191.79 211.00,191.79 211.25,191.79 211.50,191.79 211.75,191.79 212.00,191.79 212.25,191.79 212.50,191.79 212.75,191.79 213.00,191.79 213.25,191.79 213.50,191.79 213.75,191.78 214.00,191.78 214.25,191.78 214.50,191.78 214.75,191.78 215.00,191.78 215.25,191.78 215.50,191.78 215.75,191.78 216.00,191.78 216.25,191.78 216.50,191.78 216.75,191.78 217.00,191.78 217.25,191.78 217.50,191.78 217.75,191.78 218.00,191.78 218.25,191.78 218.50,191.78 218.75,191.78 219.00,191.77 219.25,191.77 219.50,191.77 219.75,191.77 220.00,191.77 220.25,191.77 220.50,191.77 220.75,191.77 221.00,191.76 221.25,191.76 221.50,191.76 221.75,191.76 222.00,191.76 222.25,191.75 222.50,191.75 222.75,191.75 223.00,191.74 223.25,191.74 223.50,191.73 223.75,191.73 224.00,191.72 224.25,191.72 224.50,191.71 224.75,191.70 225.00,191.69 225.25,191.68 225.50,191.66 225.75,191.65 226.00,191.63 226.25,191.60 226.50,191.57 226.75,191.53 227.00,191.49 227.25,191.43 227.50,191.35 227.75,191.23 228.00,191.08 228.25,190.85 228.50,190.51 228.75,189.95 229.00,188.99 229.25,187.27 229.50,184.44 229.75,181.90 230.00,183.18 230.25,186.27 230.50,188.42 230.75,189.63 231.00,190.32 231.25,190.73 231.50,191.00 231.75,191.18 232.00,191.30 232.25,191.40 232.50,191.46 232.75,191.52 233.00,191.56 233.25,191.59 233.50,191.62 233.75,191.64 234.00,191.66 234.25,191.67 234.50,191.68 234.75,191.69 235.00,191.70 235.25,191.71 235.50,191.72 235.75,191.72 236.00,191.73 236.25,191.74 236.50,191.74 236.75,191.74 237.00,191.75 237.25,191.75 237.50,191.75 237.75,191.75 238.00,191.76 238.25,191.76 238.50,191.76 238.75,191.76 239.00,191.76 239.25,191.77 239.50,191.77 239.75,191.77 240.00,191.77 240.25,191.77 240.50,191.77 240.75,191.77 241.00,191.77 241.25,191.77 241.50,191.77 241.75,191.77 242.00,191.77 242.25,191.77 242.50,191.77 242.75,191.77 243.00,191.77 243.25,191.77 243.50,191.77 243.75,191.77 244.00,191.77 244.25,191.77 244.50,191.77 244.75,191.77 245.00,191.77 245.25,191.77 245.50,191.77 245.75,191.77 246.00,191.77 246.25,191.77 246.50,191.76 246.75,191.76 247.00,191.76 247.25,191.76 247.50,191.75 247.75,191.75 248.00,191.75 248.25,191.74 248.50,191.73 248.75,191.73 249.00,191.72 249.25,191.71 249.50,191.69 249.75,191.68 250.00,191.65 250.25,191.62 250.50,191.59 250.75,191.53 251.00,191.46 251.25,191.36 251.50,191.21 251.75,191.00 252.00,190.72 252.25,190.43 252.50,190.29 252.75,190.43 253.00,190.72 253.25,191.00 253.50,191.21 253.75,191.36 254.00,191.46 254.25,191.54 254.50,191.59 254.75,191.63 255.00,191.66 255.25,191.68 255.50,191.70 255.75,191.71 256.00,191.72 256.25,191.73 256.50,191.74 256.75,191.74 257.00,191.75 257.25,191.75 257.50,191.76 257.75,191.76 258.00,191.76 258.25,191.77 258.50,191.77 258.75,191.77 259.00,191.77 259.25,191.78 259.50,191.78 259.75,191.78 260.00,191.78 260.25,191.78 260.50,191.78 260.75,191.78 261.00,191.78 261.25,191.78 261.50,191.78 261.75,191.79 262.00,191.79 262.25,191.79 262.50,191.79 262.75,191.79 263.00,191.79 263.25,191.79 263.50,191.79 263.75,191.79 264.00,191.79 264.25,191.79 264.50,191.79 264.75,191.79 265.00,191.79 265.25,191.79 265.50,191.79 265.75,191.79 266.00,191.79 266.25,191.79 266.50,191.79 266.75,191.79 267.00,191.79 267.25,191.79 267.50,191.79 267.75,191.79 268.00,191.79 268.25,191.79 268.50,191.79 268.75,191.79 269.00,191.79 269.25,191.79 269.50,191.79 269.75,191.79 270.00,191.79 270.25,191.79 270.50,191.79 270.75,191.79 271.00,191.79 271.25,191.79 271.50,191.79 271.75,191.79 272.00,191.79 272.25,191.79 272.50,191.79 272.75,191.79 273.00,191.79 273.25,191.79 273.50,191.79 273.75,191.79 274.00,191.79 274.25,191.79 274.50,191.79 274.75,191.79 275.00,191.80 275.25,191.80 275.50,191.80 275.75,191.80 276.00,191.80 276.25,191.80 276.50,191.80 276.75,191.80 277.00,191.80 277.25,191.80 277.50,191.80 277.75,191.80 278.00,191.80 278.25,191.80 278.50,191.80 278.75,191.80 279.00,191.80 279.25,191.80 279.50,191.80 279.75,191.80 280.00,191.80 280.25,191.80 280.50,191.80 280.75,191.80 281.00,191.80 281.25,191.80 281.50,191.80 281.75,191.80 282.00,191.80 282.25,191.80 282.50,191.80 282.75,191.80 283.00,191.80 283.25,191.80 283.50,191.80 283.75,191.80 284.00,191.80 284.25,191.80 284.50,191.80 284.75,191.79 285.00,191.79 285.25,191.79 285.50,191.79 285.75,191.79 286.00,191.79 286.25,191.79 286.50,191.79 286.75,191.79 287.00,191.79 287.25,191.79 287.50,191.79 287.75,191.79 288.00,191.79 288.25,191.79 288.50,191.79 288.75,191.79 289.00,191.79 289.25,191.79 289.50,191.79 289.75,191.79 290.00,191.79 290.25,191.79 290.50,191.79 290.75,191.79 291.00,191.79 291.25,191.79 291.50,191.79 291.75,191.79 292.00,191.79 292.25,191.79 292.50,191.79 292.75,191.79 293.00,191.79 293.25,191.79 293.50,191.79 293.75,191.79 294.00,191.79 294.25,191.79 294.50,191.79 294.75,191.79 295.00,191.79 295.25,191.79 295.50,191.79 295.75,191.79 296.00,191.79 296.25,191.79 296.50,191.79 296.75,191.79 297.00,191.79 297.25,191.79 297.50,191.78 297.75,191.78 298.00,191.78 298.25,191.78 298.50,191.78 298.75,191.78 299.00,191.78 299.25,191.78 299.50,191.78 299.75,191.78 300.00,191.78 300.25,191.77 300.50,191.77 300.75,191.77 301.00,191.77 301.25,191.77 301.50,191.76 301.75,191.76 302.00,191.76 302.25,191.76 302.50,191.75 302.75,191.75 303.00,191.74 303.25,191.74 303.50,191.73 303.75,191.72 304.00,191.71 304.25,191.70 304.50,191.69 304.75,191.68 305.00,191.66 305.25,191.64 305.50,191.61 305.75,191.58 306.00,191.53 306.25,191.48 306.50,191.40 306.75,191.29 307.00,191.15 307.25,190.95 307.50,190.68 307.75,190.34 308.00,190.00 308.25,189.81 308.50,189.89 308.75,190.20 309.00,190.55 309.25,190.85 309.50,191.08 309.75,191.24 310.00,191.36 310.25,191.45 310.50,191.51 310.75,191.56 311.00,191.60 311.25,191.63 311.50,191.65 311.75,191.67 312.00,191.69 312.25,191.70 312.50,191.71 312.75,191.72 313.00,191.73"/>
<polyline fill="none" stroke="#22e322" stroke-width="2.1" stroke-linejoin="round" points="40.00,240.16 40.50,240.27 41.00,239.44 41.50,238.95 42.00,238.76 42.50,239.43 43.00,238.81 43.50,238.56 44.00,239.55 44.50,239.51 45.00,239.77 45.50,238.90 46.00,239.45 46.50,239.42 47.00,238.56 47.50,239.79 48.00,239.66 48.50,240.91 49.00,239.60 49.50,239.40 50.00,240.23 50.50,239.61 51.00,240.04 51.50,239.28 52.00,239.64 52.50,240.13 53.00,239.93 53.50,239.60 54.00,238.88 54.50,239.80 55.00,239.58 55.50,239.97 56.00,239.67 56.50,237.20 57.00,239.52 57.50,239.68 58.00,239.96 58.50,238.91 59.00,239.33 59.50,239.28 60.00,240.77 60.50,239.54 61.00,240.00 61.50,240.00 62.00,239.47 62.50,238.73 63.00,240.25 63.50,239.44 64.00,238.63 64.50,238.93 65.00,239.47 65.50,240.50 66.00,240.62 66.50,239.00 67.00,238.99 67.50,239.78 68.00,240.26 68.50,239.93 69.00,240.03 69.50,239.27 70.00,240.23 70.50,240.56 71.00,239.64 71.50,239.06 72.00,239.47 72.50,240.40 73.00,238.91 73.50,239.91 74.00,239.38 74.50,239.90 75.00,237.34 75.50,240.01 76.00,240.90 76.50,240.26 77.00,240.81 77.50,239.92 78.00,239.71 78.50,240.22 79.00,238.27 79.50,239.92 80.00,240.00 80.50,239.11 81.00,240.04 81.50,239.30 82.00,237.96 82.50,239.00 83.00,238.05 83.50,237.50 84.00,236.46 84.50,235.95 85.00,235.10 85.50,236.29 86.00,237.91 86.50,237.53 87.00,239.95 87.50,238.93 88.00,240.09 88.50,239.33 89.00,239.55 89.50,239.99 90.00,241.45 90.50,240.79 91.00,240.07 91.50,240.31 92.00,239.83 92.50,240.54 93.00,240.25 93.50,241.06 94.00,239.84 94.50,240.48 95.00,240.21 95.50,240.31 96.00,241.19 96.50,240.86 97.00,241.16 97.50,241.55 98.00,241.55 98.50,240.06 99.00,241.23 99.50,239.87 100.00,240.91 100.50,242.12 101.00,240.88 101.50,240.79 102.00,241.14 102.50,241.07 103.00,241.09 103.50,240.64 104.00,241.77 104.50,241.67 105.00,241.03 105.50,241.37 106.00,241.60 106.50,241.84 107.00,241.48 107.50,241.68 108.00,241.13 108.50,240.66 109.00,241.03 109.50,241.96 110.00,241.95 110.50,241.47 111.00,241.06 111.50,241.60 112.00,242.44 112.50,242.27 113.00,241.06 113.50,241.47 114.00,240.64 114.50,240.85 115.00,241.66 115.50,241.58 116.00,242.16 116.50,242.36 117.00,242.12 117.50,242.43 118.00,241.33 118.50,241.00 119.00,241.99 119.50,243.32 120.00,240.44 120.50,241.05 121.00,241.91 121.50,242.63 122.00,241.18 122.50,242.30 123.00,241.46 123.50,242.61 124.00,242.34 124.50,242.07 125.00,243.10 125.50,241.67 126.00,241.52 126.50,243.06 127.00,241.44 127.50,243.30 128.00,241.98 128.50,241.40 129.00,242.03 129.50,242.13 130.00,242.19 130.50,241.97 131.00,242.75 131.50,240.72 132.00,241.80 132.50,241.99 133.00,243.25 133.50,240.98 134.00,241.99 134.50,241.52 135.00,241.82 135.50,242.62 136.00,242.49 136.50,243.12 137.00,241.91 137.50,242.44 138.00,242.99 138.50,242.84 139.00,242.10 139.50,242.99 140.00,241.76 140.50,243.37 141.00,242.36 141.50,242.17 142.00,242.37 142.50,242.68 143.00,243.17 143.50,241.98 144.00,241.78 144.50,242.26 145.00,241.28 145.50,240.64 146.00,241.96 146.50,240.95 147.00,241.44 147.50,239.53 148.00,237.43 148.50,237.85 149.00,235.84 149.50,235.34 150.00,235.33 150.50,237.10 151.00,238.96 151.50,239.53 152.00,240.53 152.50,240.14 153.00,241.57 153.50,240.99 154.00,241.35 154.50,242.15 155.00,242.35 155.50,241.26 156.00,243.11 156.50,241.59 157.00,242.47 157.50,242.55 158.00,242.13 158.50,242.11 159.00,243.09 159.50,242.55 160.00,242.28 160.50,240.91 161.00,241.56 161.50,242.70 162.00,242.11 162.50,241.41 163.00,241.59 163.50,241.78 164.00,242.36 164.50,242.16 165.00,242.51 165.50,241.40 166.00,242.45 166.50,241.53 167.00,241.62 167.50,242.81 168.00,241.77 168.50,241.60 169.00,241.50 169.50,241.33 170.00,242.42 170.50,242.23 171.00,241.73 171.50,241.29 172.00,241.66 172.50,240.81 173.00,240.90 173.50,240.58 174.00,240.03 174.50,240.48 175.00,239.90 175.50,238.74 176.00,235.53 176.50,235.92 177.00,232.51 177.50,227.86 178.00,223.03 178.50,219.23 179.00,218.74 179.50,222.49 180.00,227.23 180.50,231.37 181.00,234.79 181.50,236.22 182.00,237.08 182.50,238.19 183.00,239.14 183.50,239.90 184.00,241.41 184.50,239.48 185.00,240.76 185.50,240.51 186.00,240.77 186.50,241.33 187.00,241.05 187.50,239.79 188.00,238.88 188.50,237.78 189.00,238.70 189.50,240.28 190.00,240.10 190.50,241.19 191.00,241.52 191.50,241.56 192.00,242.13 192.50,241.52 193.00,241.19 193.50,241.05 194.00,242.38 194.50,241.66 195.00,241.73 195.50,242.46 196.00,241.53 196.50,243.10 197.00,242.47 197.50,241.78 198.00,241.75 198.50,242.80 199.00,241.47 199.50,241.82 200.00,242.23 200.50,242.37 201.00,242.28 201.50,242.53 202.00,242.10 202.50,242.27 203.00,243.12 203.50,242.76 204.00,242.13 204.50,243.44 205.00,241.24 205.50,242.50 206.00,242.86 206.50,243.06 207.00,242.56 207.50,242.28 208.00,242.87 208.50,242.42 209.00,242.83 209.50,240.84 210.00,242.79 210.50,242.10 211.00,243.14 211.50,243.03 212.00,243.02 212.50,242.34 213.00,242.83 213.50,242.36 214.00,242.67 214.50,242.44 215.00,241.96 215.50,243.62 216.00,242.79 216.50,241.02 217.00,242.65 217.50,241.08 218.00,241.48 218.50,240.84 219.00,240.22 219.50,239.73 220.00,238.16 220.50,236.41 221.00,237.17 221.50,238.37 222.00,240.50 222.50,240.24 223.00,240.52 223.50,241.51 224.00,242.48 224.50,241.81 225.00,242.09 225.50,243.00 226.00,242.77 226.50,243.00 227.00,242.56 227.50,242.50 228.00,242.86 228.50,243.01 229.00,242.94 229.50,243.44 230.00,243.54 230.50,243.56 231.00,243.54 231.50,242.74 232.00,242.62 232.50,243.79 233.00,243.33 233.50,243.41 234.00,242.65 234.50,243.23 235.00,242.99 235.50,242.86 236.00,243.02 236.50,242.51 237.00,243.47 237.50,244.12 238.00,243.01 238.50,243.50 239.00,242.80 239.50,243.86 240.00,244.59 240.50,242.74 241.00,243.35 241.50,244.35 242.00,243.72 242.50,243.58 243.00,242.29 243.50,243.44 244.00,244.09 244.50,244.41 245.00,243.94 245.50,243.21 246.00,243.15 246.50,242.48 247.00,242.94 247.50,244.26 248.00,243.53 248.50,242.80 249.00,244.40 249.50,242.61 250.00,244.38 250.50,243.44 251.00,243.84 251.50,244.05 252.00,243.81 252.50,244.42 253.00,243.67 253.50,243.48 254.00,243.28 254.50,242.82 255.00,243.28 255.50,244.29 256.00,244.20 256.50,244.55 257.00,245.35 257.50,244.15 258.00,244.03 258.50,242.95 259.00,243.60 259.50,245.07 260.00,244.07 260.50,243.67 261.00,243.94 261.50,242.62 262.00,243.25 262.50,242.97 263.00,242.47 263.50,244.21 264.00,244.33 264.50,243.65 265.00,243.96 265.50,243.14 266.00,244.02 266.50,244.20 267.00,244.66 267.50,244.67 268.00,244.03 268.50,243.65 269.00,243.23 269.50,243.35 270.00,244.08 270.50,244.04 271.00,243.70 271.50,244.67 272.00,244.04 272.50,243.63 273.00,243.47 273.50,243.58 274.00,242.90 274.50,242.78 275.00,243.43 275.50,242.66 276.00,242.56 276.50,243.14 277.00,242.14 277.50,243.19 278.00,242.70 278.50,243.90 279.00,243.47 279.50,242.27 280.00,244.15 280.50,243.34 281.00,242.32 281.50,243.58 282.00,243.60 282.50,242.72 283.00,243.10 283.50,243.75 284.00,244.19 284.50,243.90 285.00,243.77 285.50,243.45 286.00,240.97 286.50,241.78 287.00,242.35 287.50,240.89 288.00,243.27 288.50,243.57 289.00,242.72 289.50,243.04 290.00,242.76 290.50,243.33 291.00,243.31 291.50,243.31 292.00,242.65 292.50,243.42 293.00,242.88 293.50,243.50 294.00,242.89 294.50,241.49 295.00,241.03 295.50,241.22 296.00,239.86 296.50,239.17 297.00,238.41 297.50,238.07 298.00,238.15 298.50,239.69 299.00,241.72 299.50,241.42 300.00,243.17 300.50,242.76 301.00,243.35 301.50,242.67 302.00,243.26 302.50,241.63 303.00,243.36 303.50,243.88 304.00,243.04 304.50,243.11 305.00,243.62 305.50,243.72 306.00,243.21 306.50,244.12 307.00,242.75 307.50,244.42 308.00,242.92 308.50,243.28 309.00,244.58 309.50,243.19 310.00,242.81 310.50,243.85 311.00,243.26 311.50,243.15 312.00,243.40 312.50,243.38 313.00,243.25"/>
<polyline fill="none" stroke="#169416" stroke-width="1.5" stroke-linejoin="round" points="40.00,256.60 40.25,256.60 40.50,256.60 40.75,256.60 41.00,256.60 41.25,256.60 41.50,256.60 41.75,256.60 42.00,256.60 42.25,256.60 42.50,256.60 42.75,256.60 43.00,256.60 43.25,256.60 43.50,256.60 43.75,256.60 44.00,256.60 44.25,256.60 44.50,256.60 44.75,256.60 45.00,256.60 45.25,256.60 45.50,256.60 45.75,256.60 46.00,256.60 46.25,256.60 46.50,256.60 46.75,256.60 47.00,256.60 47.25,256.60 47.50,256.60 47.75,256.60 48.00,256.60 48.25,256.60 48.50,256.60 48.75,256.60 49.00,256.60 49.25,256.60 49.50,256.60 49.75,256.60 50.00,256.60 50.25,256.60 50.50,256.60 50.75,256.60 51.00,256.60 51.25,256.60 51.50,256.60 51.75,256.60 52.00,256.60 52.25,256.60 52.50,256.60 52.75,256.60 53.00,256.60 53.25,256.60 53.50,256.60 53.75,256.60 54.00,256.60 54.25,256.60 54.50,256.60 54.75,256.60 55.00,256.60 55.25,256.60 55.50,256.60 55.75,256.60 56.00,256.60 56.25,256.60 56.50,256.60 56.75,256.60 57.00,256.60 57.25,256.60 57.50,256.60 57.75,256.60 58.00,256.60 58.25,256.60 58.50,256.60 58.75,256.60 59.00,256.60 59.25,256.60 59.50,256.60 59.75,256.60 60.00,256.60 60.25,256.60 60.50,256.60 60.75,256.60 61.00,256.60 61.25,256.60 61.50,256.60 61.75,256.60 62.00,256.60 62.25,256.60 62.50,256.60 62.75,256.60 63.00,256.60 63.25,256.60 63.50,256.60 63.75,256.60 64.00,256.60 64.25,256.60 64.50,256.60 64.75,256.60 65.00,256.60 65.25,256.60 65.50,256.60 65.75,256.60 66.00,256.60 66.25,256.60 66.50,256.60 66.75,256.60 67.00,256.60 67.25,256.60 67.50,256.60 67.75,256.60 68.00,256.60 68.25,256.60 68.50,256.60 68.75,256.60 69.00,256.60 69.25,256.60 69.50,256.60 69.75,256.60 70.00,256.60 70.25,256.60 70.50,256.60 70.75,256.60 71.00,256.60 71.25,256.60 71.50,256.60 71.75,256.60 72.00,256.60 72.25,256.60 72.50,256.60 72.75,256.60 73.00,256.60 73.25,256.60 73.50,256.60 73.75,256.59 74.00,256.59 74.25,256.59 74.50,256.59 74.75,256.59 75.00,256.59 75.25,256.59 75.50,256.59 75.75,256.59 76.00,256.59 76.25,256.59 76.50,256.59 76.75,256.59 77.00,256.59 77.25,256.59 77.50,256.59 77.75,256.59 78.00,256.59 78.25,256.59 78.50,256.59 78.75,256.58 79.00,256.58 79.25,256.58 79.50,256.58 79.75,256.58 80.00,256.58 80.25,256.57 80.50,256.57 80.75,256.57 81.00,256.56 81.25,256.56 81.50,256.55 81.75,256.55 82.00,256.54 82.25,256.53 82.50,256.51 82.75,256.49 83.00,256.46 83.25,256.43 83.50,256.37 83.75,256.28 84.00,256.14 84.25,255.89 84.50,255.45 84.75,254.76 85.00,254.30 85.25,254.76 85.50,255.45 85.75,255.89 86.00,256.14 86.25,256.28 86.50,256.37 86.75,256.43 87.00,256.46 87.25,256.49 87.50,256.51 87.75,256.53 88.00,256.54 88.25,256.55 88.50,256.55 88.75,256.56 89.00,256.56 89.25,256.57 89.50,256.57 89.75,256.57 90.00,256.58 90.25,256.58 90.50,256.58 90.75,256.58 91.00,256.58 91.25,256.58 91.50,256.59 91.75,256.59 92.00,256.59 92.25,256.59 92.50,256.59 92.75,256.59 93.00,256.59 93.25,256.59 93.50,256.59 93.75,256.59 94.00,256.59 94.25,256.59 94.50,256.59 94.75,256.59 95.00,256.59 95.25,256.59 95.50,256.59 95.75,256.59 96.00,256.59 96.25,256.59 96.50,256.59 96.75,256.59 97.00,256.59 97.25,256.60 97.50,256.60 97.75,256.60 98.00,256.60 98.25,256.60 98.50,256.60 98.75,256.60 99.00,256.60 99.25,256.60 99.50,256.60 99.75,256.60 100.00,256.60 100.25,256.60 100.50,256.60 100.75,256.60 101.00,256.60 101.25,256.60 101.50,256.60 101.75,256.60 102.00,256.60 102.25,256.60 102.50,256.60 102.75,256.60 103.00,256.60 103.25,256.60 103.50,256.60 103.75,256.60 104.00,256.60 104.25,256.60 104.50,256.60 104.75,256.60 105.00,256.60 105.25,256.60 105.50,256.60 105.75,256.60 106.00,256.60 106.25,256.60 106.50,256.60 106.75,256.60 107.00,256.60 107.25,256.60 107.50,256.60 107.75,256.60 108.00,256.60 108.25,256.60 108.50,256.60 108.75,256.60 109.00,256.60 109.25,256.60 109.50,256.60 109.75,256.60 110.00,256.60 110.25,256.60 110.50,256.60 110.75,256.60 111.00,256.60 111.25,256.60 111.50,256.60 111.75,256.60 112.00,256.60 112.25,256.60 112.50,256.60 112.75,256.60 113.00,256.60 113.25,256.60 113.50,256.60 113.75,256.60 114.00,256.60 114.25,256.60 114.50,256.60 114.75,256.60 115.00,256.60 115.25,256.60 115.50,256.60 115.75,256.60 116.00,256.60 116.25,256.60 116.50,256.60 116.75,256.60 117.00,256.60 117.25,256.60 117.50,256.60 117.75,256.60 118.00,256.60 118.25,256.60 118.50,256.60 118.75,256.60 119.00,256.60 119.25,256.60 119.50,256.60 119.75,256.60 120.00,256.60 120.25,256.60 120.50,256.60 120.75,256.60 121.00,256.60 121.25,256.60 121.50,256.60 121.75,256.60 122.00,256.60 122.25,256.60 122.50,256.60 122.75,256.60 123.00,256.60 123.25,256.60 123.50,256.60 123.75,256.60 124.00,256.60 124.25,256.60 124.50,256.60 124.75,256.60 125.00,256.60 125.25,256.60 125.50,256.60 125.75,256.60 126.00,256.60 126.25,256.60 126.50,256.60 126.75,256.60 127.00,256.60 127.25,256.60 127.50,256.60 127.75,256.60 128.00,256.60 128.25,256.60 128.50,256.60 128.75,256.60 129.00,256.60 129.25,256.60 129.50,256.60 129.75,256.60 130.00,256.60 130.25,256.60 130.50,256.60 130.75,256.60 131.00,256.59 131.25,256.59 131.50,256.59 131.75,256.59 132.00,256.59 132.25,256.59 132.50,256.59 132.75,256.59 133.00,256.59 133.25,256.59 133.50,256.59 133.75,256.59 134.00,256.59 134.25,256.59 134.50,256.59 134.75,256.59 135.00,256.59 135.25,256.59 135.50,256.59 135.75,256.59 136.00,256.59 136.25,256.59 136.50,256.59 136.75,256.59 137.00,256.59 137.25,256.59 137.50,256.59 137.75,256.59 138.00,256.59 138.25,256.59 138.50,256.59 138.75,256.59 139.00,256.59 139.25,256.59 139.50,256.59 139.75,256.59 140.00,256.59 140.25,256.59 140.50,256.59 140.75,256.58 141.00,256.58 141.25,256.58 141.50,256.58 141.75,256.58 142.00,256.58 142.25,256.58 142.50,256.58 142.75,256.58 143.00,256.57 143.25,256.57 143.50,256.57 143.75,256.57 144.00,256.56 144.25,256.56 144.50,256.56 144.75,256.55 145.00,256.55 145.25,256.54 145.50,256.54 145.75,256.53 146.00,256.52 146.25,256.51 146.50,256.49 146.75,256.48 147.00,256.45 147.25,256.42 147.50,256.38 147.75,256.32 148.00,256.24 148.25,256.11 148.50,255.91 148.75,255.57 149.00,254.96 149.25,253.91 149.50,252.75 149.75,252.93 150.00,254.16 150.25,255.11 150.50,255.65 150.75,255.96 151.00,256.14 151.25,256.26 151.50,256.34 151.75,256.39 152.00,256.43 152.25,256.46 152.50,256.48 152.75,256.50 153.00,256.51 153.25,256.52 153.50,256.53 153.75,256.54 154.00,256.54 154.25,256.55 154.50,256.55 154.75,256.56 155.00,256.56 155.25,256.56 155.50,256.56 155.75,256.57 156.00,256.57 156.25,256.57 156.50,256.57 156.75,256.57 157.00,256.57 157.25,256.58 157.50,256.58 157.75,256.58 158.00,256.58 158.25,256.58 158.50,256.58 158.75,256.58 159.00,256.58 159.25,256.58 159.50,256.58 159.75,256.58 160.00,256.58 160.25,256.58 160.50,256.58 160.75,256.58 161.00,256.58 161.25,256.58 161.50,256.58 161.75,256.58 162.00,256.58 162.25,256.58 162.50,256.58 162.75,256.58 163.00,256.58 163.25,256.58 163.50,256.58 163.75,256.58 164.00,256.58 164.25,256.58 164.50,256.58 164.75,256.58 165.00,256.58 165.25,256.58 165.50,256.58 165.75,256.58 166.00,256.58 166.25,256.58 166.50,256.57 166.75,256.57 167.00,256.57 167.25,256.57 167.50,256.57 167.75,256.57 168.00,256.57 168.25,256.57 168.50,256.57 168.75,256.57 169.00,256.56 169.25,256.56 169.50,256.56 169.75,256.56 170.00,256.56 170.25,256.56 170.50,256.55 170.75,256.55 171.00,256.55 171.25,256.54 171.50,256.54 171.75,256.54 172.00,256.53 172.25,256.53 172.50,256.52 172.75,256.52 173.00,256.51 173.25,256.50 173.50,256.50 173.75,256.49 174.00,256.48 174.25,256.46 174.50,256.45 174.75,256.43 175.00,256.41 175.25,256.39 175.50,256.36 175.75,256.32 176.00,256.27 176.25,256.21 176.50,256.14 176.75,256.03 177.00,255.89 177.25,255.69 177.50,255.39 177.75,254.93 178.00,254.15 178.25,252.75 178.50,250.10 178.75,245.51 179.00,242.09 179.25,245.51 179.50,250.10 179.75,252.75 180.00,254.14 180.25,254.92 180.50,255.39 180.75,255.68 181.00,255.88 181.25,256.02 181.50,256.12 181.75,256.20 182.00,256.26 182.25,256.30 182.50,256.34 182.75,256.37 183.00,256.39 183.25,256.41 183.50,256.42 183.75,256.43 184.00,256.44 184.25,256.45 184.50,256.45 184.75,256.46 185.00,256.46 185.25,256.46 185.50,256.45 185.75,256.45 186.00,256.44 186.25,256.42 186.50,256.40 186.75,256.38 187.00,256.34 187.25,256.29 187.50,256.21 187.75,256.10 188.00,255.93 188.25,255.63 188.50,255.11 188.75,254.19 189.00,252.86 189.25,252.31 189.50,253.41 189.75,254.63 190.00,255.37 190.25,255.78 190.50,256.02 190.75,256.17 191.00,256.27 191.25,256.34 191.50,256.38 191.75,256.42 192.00,256.45 192.25,256.47 192.50,256.48 192.75,256.50 193.00,256.51 193.25,256.52 193.50,256.53 193.75,256.53 194.00,256.54 194.25,256.54 194.50,256.55 194.75,256.55 195.00,256.55 195.25,256.56 195.50,256.56 195.75,256.56 196.00,256.56 196.25,256.57 196.50,256.57 196.75,256.57 197.00,256.57 197.25,256.57 197.50,256.57 197.75,256.57 198.00,256.57 198.25,256.58 198.50,256.58 198.75,256.58 199.00,256.58 199.25,256.58 199.50,256.58 199.75,256.58 200.00,256.58 200.25,256.58 200.50,256.58 200.75,256.58 201.00,256.58 201.25,256.58 201.50,256.58 201.75,256.58 202.00,256.58 202.25,256.58 202.50,256.58 202.75,256.58 203.00,256.58 203.25,256.58 203.50,256.58 203.75,256.58 204.00,256.58 204.25,256.58 204.50,256.58 204.75,256.58 205.00,256.58 205.25,256.58 205.50,256.58 205.75,256.58 206.00,256.58 206.25,256.58 206.50,256.58 206.75,256.58 207.00,256.58 207.25,256.58 207.50,256.58 207.75,256.58 208.00,256.58 208.25,256.58 208.50,256.58 208.75,256.58 209.00,256.58 209.25,256.58 209.50,256.58 209.75,256.58 210.00,256.58 210.25,256.58 210.50,256.58 210.75,256.58 211.00,256.58 211.25,256.58 211.50,256.58 211.75,256.58 212.00,256.58 212.25,256.58 212.50,256.57 212.75,256.57 213.00,256.57 213.25,256.57 213.50,256.57 213.75,256.57 214.00,256.57 214.25,256.56 214.50,256.56 214.75,256.56 215.00,256.56 215.25,256.55 215.50,256.55 215.75,256.55 216.00,256.54 216.25,256.54 216.50,256.53 216.75,256.53 217.00,256.52 217.25,256.51 217.50,256.50 217.75,256.49 218.00,256.47 218.25,256.45 218.50,256.43 218.75,256.40 219.00,256.36 219.25,256.32 219.50,256.25 219.75,256.16 220.00,256.04 220.25,255.85 220.50,255.56 220.75,255.08 221.00,254.23 221.25,252.73 221.50,250.56 221.75,249.67 222.00,251.45 222.25,253.43 222.50,254.63 222.75,255.30 223.00,255.69 223.25,255.94 223.50,256.10 223.75,256.20 224.00,256.28 224.25,256.34 224.50,256.38 224.75,256.41 225.00,256.44 225.25,256.46 225.50,256.48 225.75,256.49 226.00,256.50 226.25,256.51 226.50,256.52 226.75,256.53 227.00,256.54 227.25,256.54 227.50,256.55 227.75,256.55 228.00,256.55 228.25,256.56 228.50,256.56 228.75,256.56 229.00,256.56 229.25,256.57 229.50,256.57 229.75,256.57 230.00,256.57 230.25,256.57 230.50,256.58 230.75,256.58 231.00,256.58 231.25,256.58 231.50,256.58 231.75,256.58 232.00,256.58 232.25,256.58 232.50,256.58 232.75,256.58 233.00,256.58 233.25,256.58 233.50,256.59 233.75,256.59 234.00,256.59 234.25,256.59 234.50,256.59 234.75,256.59 235.00,256.59 235.25,256.59 235.50,256.59 235.75,256.59 236.00,256.59 236.25,256.59 236.50,256.59 236.75,256.59 237.00,256.59 237.25,256.59 237.50,256.59 237.75,256.59 238.00,256.59 238.25,256.59 238.50,256.59 238.75,256.59 239.00,256.59 239.25,256.59 239.50,256.59 239.75,256.59 240.00,256.59 240.25,256.59 240.50,256.59 240.75,256.59 241.00,256.59 241.25,256.59 241.50,256.59 241.75,256.59 242.00,256.59 242.25,256.59 242.50,256.59 242.75,256.59 243.00,256.59 243.25,256.59 243.50,256.59 243.75,256.59 244.00,256.59 244.25,256.59 244.50,256.59 244.75,256.59 245.00,256.59 245.25,256.59 245.50,256.59 245.75,256.60 246.00,256.60 246.25,256.60 246.50,256.60 246.75,256.60 247.00,256.60 247.25,256.60 247.50,256.60 247.75,256.60 248.00,256.60 248.25,256.60 248.50,256.60 248.75,256.60 249.00,256.60 249.25,256.60 249.50,256.60 249.75,256.60 250.00,256.60 250.25,256.60 250.50,256.60 250.75,256.60 251.00,256.60 251.25,256.60 251.50,256.60 251.75,256.60 252.00,256.60 252.25,256.60 252.50,256.60 252.75,256.60 253.00,256.60 253.25,256.60 253.50,256.60 253.75,256.60 254.00,256.60 254.25,256.60 254.50,256.60 254.75,256.60 255.00,256.60 255.25,256.60 255.50,256.60 255.75,256.60 256.00,256.60 256.25,256.60 256.50,256.60 256.75,256.60 257.00,256.60 257.25,256.60 257.50,256.60 257.75,256.60 258.00,256.60 258.25,256.60 258.50,256.60 258.75,256.60 259.00,256.60 259.25,256.60 259.50,256.60 259.75,256.60 260.00,256.60 260.25,256.60 260.50,256.60 260.75,256.60 261.00,256.60 261.25,256.60 261.50,256.60 261.75,256.60 262.00,256.60 262.25,256.60 262.50,256.60 262.75,256.60 263.00,256.60 263.25,256.60 263.50,256.60 263.75,256.60 264.00,256.60 264.25,256.60 264.50,256.60 264.75,256.60 265.00,256.60 265.25,256.59 265.50,256.59 265.75,256.59 266.00,256.59 266.25,256.59 266.50,256.59 266.75,256.59 267.00,256.59 267.25,256.59 267.50,256.59 267.75,256.59 268.00,256.59 268.25,256.59 268.50,256.59 268.75,256.59 269.00,256.59 269.25,256.59 269.50,256.59 269.75,256.59 270.00,256.59 270.25,256.59 270.50,256.59 270.75,256.59 271.00,256.59 271.25,256.59 271.50,256.59 271.75,256.59 272.00,256.59 272.25,256.59 272.50,256.59 272.75,256.58 273.00,256.58 273.25,256.58 273.50,256.58 273.75,256.58 274.00,256.58 274.25,256.57 274.50,256.57 274.75,256.57 275.00,256.56 275.25,256.56 275.50,256.55 275.75,256.54 276.00,256.53 276.25,256.51 276.50,256.49 276.75,256.45 277.00,256.40 277.25,256.31 277.50,256.17 277.75,255.96 278.00,255.70 278.25,255.60 278.50,255.80 278.75,256.05 279.00,256.24 279.25,256.35 279.50,256.42 279.75,256.46 280.00,256.49 280.25,256.52 280.50,256.53 280.75,256.54 281.00,256.55 281.25,256.56 281.50,256.56 281.75,256.57 282.00,256.57 282.25,256.57 282.50,256.57 282.75,256.58 283.00,256.58 283.25,256.58 283.50,256.58 283.75,256.58 284.00,256.58 284.25,256.58 284.50,256.58 284.75,256.58 285.00,256.58 285.25,256.58 285.50,256.58 285.75,256.58 286.00,256.58 286.25,256.58 286.50,256.58 286.75,256.58 287.00,256.58 287.25,256.58 287.50,256.58 287.75,256.58 288.00,256.58 288.25,256.58 288.50,256.58 288.75,256.58 289.00,256.58 289.25,256.58 289.50,256.58 289.75,256.58 290.00,256.57 290.25,256.57 290.50,256.57 290.75,256.57 291.00,256.57 291.25,256.57 291.50,256.56 291.75,256.56 292.00,256.56 292.25,256.55 292.50,256.55 292.75,256.54 293.00,256.54 293.25,256.53 293.50,256.52 293.75,256.52 294.00,256.50 294.25,256.49 294.50,256.47 294.75,256.45 295.00,256.43 295.25,256.39 295.50,256.35 295.75,256.29 296.00,256.20 296.25,256.08 296.50,255.89 296.75,255.58 297.00,255.05 297.25,254.11 297.50,252.55 297.75,251.15 298.00,251.86 298.25,253.56 298.50,254.74 298.75,255.41 299.00,255.78 299.25,256.01 299.50,256.16 299.75,256.26 300.00,256.33 300.25,256.38 300.50,256.42 300.75,256.45 301.00,256.47 301.25,256.49 301.50,256.50 301.75,256.51 302.00,256.52 302.25,256.53 302.50,256.54 302.75,256.54 303.00,256.55 303.25,256.55 303.50,256.56 303.75,256.56 304.00,256.56 304.25,256.57 304.50,256.57 304.75,256.57 305.00,256.57 305.25,256.57 305.50,256.58 305.75,256.58 306.00,256.58 306.25,256.58 306.50,256.58 306.75,256.58 307.00,256.58 307.25,256.58 307.50,256.58 307.75,256.59 308.00,256.59 308.25,256.59 308.50,256.59 308.75,256.59 309.00,256.59 309.25,256.59 309.50,256.59 309.75,256.59 310.00,256.59 310.25,256.59 310.50,256.59 310.75,256.59 311.00,256.59 311.25,256.59 311.50,256.59 311.75,256.59 312.00,256.59 312.25,256.59 312.50,256.59 312.75,256.59 313.00,256.59"/>
<rect x="39.4" y="19.8" width="274" height="241.9" fill="none" stroke="#222" stroke-width="1.5"/>
<line x1="39.40" y1="261.7" x2="39.40" y2="264.70" stroke="#222" stroke-width="1"/>
<line x1="50.36" y1="261.7" x2="50.36" y2="263.90" stroke="#222" stroke-width="1"/>
<line x1="61.32" y1="261.7" x2="61.32" y2="263.90" stroke="#222" stroke-width="1"/>
<line x1="72.28" y1="261.7" x2="72.28" y2="263.90" stroke="#222" stroke-width="1"/>
<line x1="83.24" y1="261.7" x2="83.24" y2="263.90" stroke="#222" stroke-width="1"/>
<line x1="94.20" y1="261.7" x2="94.20" y2="264.70" stroke="#222" stroke-width="1"/>
<line x1="105.16" y1="261.7" x2="105.16" y2="263.90" stroke="#222" stroke-width="1"/>
<line x1="116.12" y1="261.7" x2="116.12" y2="263.90" stroke="#222" stroke-width="1"/>
<line x1="127.08" y1="261.7" x2="127.08" y2="263.90" stroke="#222" stroke-width="1"/>
<line x1="138.04" y1="261.7" x2="138.04" y2="263.90" stroke="#222" stroke-width="1"/>
<line x1="149.00" y1="261.7" x2="149.00" y2="264.70" stroke="#222" stroke-width="1"/>
<line x1="159.96" y1="261.7" x2="159.96" y2="263.90" stroke="#222" stroke-width="1"/>
<line x1="170.92" y1="261.7" x2="170.92" y2="263.90" stroke="#222" stroke-width="1"/>
<line x1="181.88" y1="261.7" x2="181.88" y2="263.90" stroke="#222" stroke-width="1"/>
<line x1="192.84" y1="261.7" x2="192.84" y2="263.90" stroke="#222" stroke-width="1"/>
<line x1="203.80" y1="261.7" x2="203.80" y2="264.70" stroke="#222" stroke-width="1"/>
<line x1="214.76" y1="261.7" x2="214.76" y2="263.90" stroke="#222" stroke-width="1"/>
<line x1="225.72" y1="261.7" x2="225.72" y2="263.90" stroke="#222" stroke-width="1"/>
<line x1="236.68" y1="261.7" x2="236.68" y2="263.90" stroke="#222" stroke-width="1"/>
<line x1="247.64" y1="261.7" x2="247.64" y2="263.90" stroke="#222" stroke-width="1"/>
<line x1="258.60" y1="261.7" x2="258.60" y2="264.70" stroke="#222" stroke-width="1"/>
<line x1="269.56" y1="261.7" x2="269.56" y2="263.90" stroke="#222" stroke-width="1"/>
<line x1="280.52" y1="261.7" x2="280.52" y2="263.90" stroke="#222" stroke-width="1"/>
<line x1="291.48" y1="261.7" x2="291.48" y2="263.90" stroke="#222" stroke-width="1"/>
<line x1="302.44" y1="261.7" x2="302.44" y2="263.90" stroke="#222" stroke-width="1"/>
<line x1="313.40" y1="261.7" x2="313.40" y2="264.70" stroke="#222" stroke-width="1"/>
<g fill="#1a1a1a" stroke="#1a1a1a" stroke-width="0.3">
<text x="38.20" y="276.2" font-size="10" text-anchor="middle">10</text>
<text x="94.20" y="276.2" font-size="10" text-anchor="middle">20</text>
<text x="149.00" y="276.2" font-size="10" text-anchor="middle">30</text>
<text x="203.80" y="276.2" font-size="10" text-anchor="middle">40</text>
<text x="258.60" y="276.2" font-size="10" text-anchor="middle">50</text>
<text x="313.40" y="276.2" font-size="10" text-anchor="middle">60</text>
<text x="175.3" y="287.4" font-size="10" text-anchor="middle" textLength="52.6" lengthAdjust="spacingAndGlyphs">2θ(degree)</text>
<text transform="translate(34.4,148) rotate(-90)" font-size="10" text-anchor="middle" textLength="70" lengthAdjust="spacingAndGlyphs">Intensity (a.u.)</text>
<text x="92.7" y="70.8" font-size="8.4" textLength="88.5" lengthAdjust="spacingAndGlyphs">characteristic peak of</text>
<text x="111.4" y="83.4" font-size="8.4" textLength="54" lengthAdjust="spacingAndGlyphs">Li-rich phase</text>
</g>
<rect x="93.6" y="72.7" width="17.3" height="79.6" fill="none" stroke="#8a8a8a" stroke-width="0.9"/>
<line x1="99.6" y1="87.4" x2="104.2" y2="77.6" stroke="#333" stroke-width="1.1"/>
<g fill="#1a1a1a" stroke="#1a1a1a" stroke-width="0.22" font-size="8.6">
<text transform="translate(84.2,124.8) rotate(-90)">002</text>
<text transform="translate(100.8,132.6) rotate(-90)">020</text>
<text transform="translate(108.2,134.0) rotate(-90)">-111</text>
<text transform="translate(185.4,134.4) rotate(-90)" textLength="24.5" lengthAdjust="spacingAndGlyphs">200 &amp;</text>
<text transform="translate(194.3,127.6) rotate(-90)">-131</text>
<text transform="translate(204.2,125.8) rotate(-90)">113</text>
<text transform="translate(212.8,124.7) rotate(-90)">131</text>
<text transform="translate(227.1,122.4) rotate(-90)">202</text>
<text transform="translate(241.1,125.8) rotate(-90)">-133</text>
<text transform="translate(255.7,132.6) rotate(-90)">133</text>
<text transform="translate(85.9,173.9) rotate(-90)">003</text>
<text transform="translate(187.3,182.0) rotate(-90)">101</text>
<text transform="translate(197.9,184.2) rotate(-90)">006</text>
<text transform="translate(208.6,184.0) rotate(-90)">012</text>
<text transform="translate(233.5,179.0) rotate(-90)">104</text>
<text transform="translate(255.2,184.8) rotate(-90)">015</text>
</g>
<line x1="197.6" y1="127.9" x2="193.1" y2="133" stroke="#333" stroke-width="0.9"/>
<line x1="207.7" y1="127.9" x2="199.3" y2="134.5" stroke="#333" stroke-width="0.9"/>
<line x1="224.8" y1="122.8" x2="222.4" y2="128.4" stroke="#333" stroke-width="0.9"/>
<line x1="234" y1="128.2" x2="236.2" y2="130.6" stroke="#333" stroke-width="0.9"/>
<line x1="192.6" y1="185.8" x2="192.6" y2="188.1" stroke="#333" stroke-width="0.9"/>
<line x1="202.4" y1="185.3" x2="198.4" y2="188" stroke="#333" stroke-width="0.9"/>
<line x1="317.2" y1="91.2" x2="325.2" y2="91.2" stroke="#d312d3" stroke-width="1.7"/>
<line x1="317.2" y1="108.9" x2="325.2" y2="108.9" stroke="#dd1515" stroke-width="1.7"/>
<line x1="317.2" y1="127.1" x2="325.2" y2="127.1" stroke="#6c22b0" stroke-width="1.7"/>
<line x1="317.2" y1="157.1" x2="325.2" y2="157.1" stroke="#33e033" stroke-width="1.7"/>
<line x1="317.2" y1="173.4" x2="325.2" y2="173.4" stroke="#168816" stroke-width="1.7"/>
<g fill="#1a1a1a" stroke="#1a1a1a" stroke-width="0.3" font-size="10.8">
<text x="328.4" y="94.8" textLength="63.0" lengthAdjust="spacingAndGlyphs">Li<tspan dy="4.3" font-size="10.2">2</tspan><tspan dy="-4.3">CO</tspan><tspan dy="4.3" font-size="10.2">3</tspan><tspan dy="-4.3">@LLO</tspan></text>
<text x="328.4" y="112.3" textLength="44.6" lengthAdjust="spacingAndGlyphs">Li<tspan dy="4.3" font-size="10.2">2</tspan><tspan dy="-4.3">MnO</tspan><tspan dy="4.3" font-size="10.2">3</tspan></text>
<text x="328.4" y="130.3" textLength="37.6" lengthAdjust="spacingAndGlyphs">LiTMO<tspan dy="4.3" font-size="10.2">2</tspan></text>
<text x="328.4" y="161.3" textLength="61.4" lengthAdjust="spacingAndGlyphs">C@Mi<tspan dy="4.3" font-size="10.2">2</tspan><tspan dy="-4.3">NiO</tspan><tspan dy="4.3" font-size="10.2">4</tspan></text>
<text x="329.5" y="178.2" textLength="48.6" lengthAdjust="spacingAndGlyphs">Mn<tspan dy="4.3" font-size="10.2">2</tspan><tspan dy="-4.3">NiO</tspan><tspan dy="4.3" font-size="10.2">4</tspan></text>
<text x="328.4" y="144.0" textLength="63" lengthAdjust="spacingAndGlyphs">(TM=Mn, Ni)</text>
</g>
<circle cx="267.9" cy="39.5" r="2.9" fill="#d5f0cc" stroke="#6dbb5c" stroke-width="1.7"/>
<circle cx="295.5" cy="39.5" r="2.9" fill="#eeeeee" stroke="#9d9d9d" stroke-width="1.7"/>
<circle cx="267.9" cy="56.3" r="3.4" fill="#c860d0" stroke="#7d1288" stroke-width="1.8"/>
<circle cx="296.1" cy="55.4" r="1.9" fill="#dd2020" stroke="#b01818" stroke-width="0.5"/>
<g fill="#1a1a1a" stroke="#1a1a1a" stroke-width="0.3" font-size="10">
<text x="273.9" y="43.1">Li</text>
<text x="299.0" y="43.1" textLength="12.4" lengthAdjust="spacingAndGlyphs">Ni</text>
<text x="273.3" y="59.8" textLength="16.2" lengthAdjust="spacingAndGlyphs">Mn</text>
<text x="300.2" y="59.8">O</text>
</g>
<polygon points="266.2,105.0 269.2,97.9 310.2,97.9 307.2,105.0" fill="#931c99" stroke="#86103e" stroke-width="0.7"/>
<line x1="277.40" y1="97.9" x2="274.40" y2="105.0" stroke="#7a1475" stroke-width="0.6"/>
<line x1="285.60" y1="97.9" x2="282.60" y2="105.0" stroke="#7a1475" stroke-width="0.6"/>
<line x1="293.80" y1="97.9" x2="290.80" y2="105.0" stroke="#7a1475" stroke-width="0.6"/>
<line x1="302.00" y1="97.9" x2="299.00" y2="105.0" stroke="#7a1475" stroke-width="0.6"/>
<circle cx="269.20" cy="97.90" r="0.75" fill="#d02030"/>
<circle cx="266.20" cy="105.00" r="0.75" fill="#d02030"/>
<circle cx="277.40" cy="97.90" r="0.75" fill="#d02030"/>
<circle cx="274.40" cy="105.00" r="0.75" fill="#d02030"/>
<circle cx="285.60" cy="97.90" r="0.75" fill="#d02030"/>
<circle cx="282.60" cy="105.00" r="0.75" fill="#d02030"/>
<circle cx="293.80" cy="97.90" r="0.75" fill="#d02030"/>
<circle cx="290.80" cy="105.00" r="0.75" fill="#d02030"/>
<circle cx="302.00" cy="97.90" r="0.75" fill="#d02030"/>
<circle cx="299.00" cy="105.00" r="0.75" fill="#d02030"/>
<circle cx="310.20" cy="97.90" r="0.75" fill="#d02030"/>
<circle cx="307.20" cy="105.00" r="0.75" fill="#d02030"/>
<circle cx="280.0" cy="101.4" r="1.35" fill="#f4f4f4" stroke="#a0a0a0" stroke-width="0.6"/>
<circle cx="295.8" cy="101.4" r="1.35" fill="#f4f4f4" stroke="#a0a0a0" stroke-width="0.6"/>
<polygon points="261.6,119.8 264.2,112.5 305.2,112.5 302.6,119.8" fill="#931c99" stroke="#86103e" stroke-width="0.7"/>
<line x1="272.40" y1="112.5" x2="269.80" y2="119.8" stroke="#7a1475" stroke-width="0.6"/>
<line x1="280.60" y1="112.5" x2="278.00" y2="119.8" stroke="#7a1475" stroke-width="0.6"/>
<line x1="288.80" y1="112.5" x2="286.20" y2="119.8" stroke="#7a1475" stroke-width="0.6"/>
<line x1="297.00" y1="112.5" x2="294.40" y2="119.8" stroke="#7a1475" stroke-width="0.6"/>
<circle cx="264.20" cy="112.50" r="0.75" fill="#d02030"/>
<circle cx="261.60" cy="119.80" r="0.75" fill="#d02030"/>
<circle cx="272.40" cy="112.50" r="0.75" fill="#d02030"/>
<circle cx="269.80" cy="119.80" r="0.75" fill="#d02030"/>
<circle cx="280.60" cy="112.50" r="0.75" fill="#d02030"/>
<circle cx="278.00" cy="119.80" r="0.75" fill="#d02030"/>
<circle cx="288.80" cy="112.50" r="0.75" fill="#d02030"/>
<circle cx="286.20" cy="119.80" r="0.75" fill="#d02030"/>
<circle cx="297.00" cy="112.50" r="0.75" fill="#d02030"/>
<circle cx="294.40" cy="119.80" r="0.75" fill="#d02030"/>
<circle cx="305.20" cy="112.50" r="0.75" fill="#d02030"/>
<circle cx="302.60" cy="119.80" r="0.75" fill="#d02030"/>
<circle cx="266.8" cy="116.2" r="1.35" fill="#f4f4f4" stroke="#a0a0a0" stroke-width="0.6"/>
<circle cx="274.9" cy="116.2" r="1.35" fill="#f4f4f4" stroke="#a0a0a0" stroke-width="0.6"/>
<circle cx="290.9" cy="116.2" r="1.35" fill="#f4f4f4" stroke="#a0a0a0" stroke-width="0.6"/>
<polygon points="256.8,134.4 259.0,127.4 300.0,127.4 297.8,134.4" fill="#931c99" stroke="#86103e" stroke-width="0.7"/>
<line x1="267.20" y1="127.4" x2="265.00" y2="134.4" stroke="#7a1475" stroke-width="0.6"/>
<line x1="275.40" y1="127.4" x2="273.20" y2="134.4" stroke="#7a1475" stroke-width="0.6"/>
<line x1="283.60" y1="127.4" x2="281.40" y2="134.4" stroke="#7a1475" stroke-width="0.6"/>
<line x1="291.80" y1="127.4" x2="289.60" y2="134.4" stroke="#7a1475" stroke-width="0.6"/>
<circle cx="259.00" cy="127.40" r="0.75" fill="#d02030"/>
<circle cx="256.80" cy="134.40" r="0.75" fill="#d02030"/>
<circle cx="267.20" cy="127.40" r="0.75" fill="#d02030"/>
<circle cx="265.00" cy="134.40" r="0.75" fill="#d02030"/>
<circle cx="275.40" cy="127.40" r="0.75" fill="#d02030"/>
<circle cx="273.20" cy="134.40" r="0.75" fill="#d02030"/>
<circle cx="283.60" cy="127.40" r="0.75" fill="#d02030"/>
<circle cx="281.40" cy="134.40" r="0.75" fill="#d02030"/>
<circle cx="291.80" cy="127.40" r="0.75" fill="#d02030"/>
<circle cx="289.60" cy="134.40" r="0.75" fill="#d02030"/>
<circle cx="300.00" cy="127.40" r="0.75" fill="#d02030"/>
<circle cx="297.80" cy="134.40" r="0.75" fill="#d02030"/>
<circle cx="278.0" cy="131.0" r="1.35" fill="#f4f4f4" stroke="#a0a0a0" stroke-width="0.6"/>
<circle cx="294.1" cy="131.0" r="1.35" fill="#f4f4f4" stroke="#a0a0a0" stroke-width="0.6"/>
<circle cx="269.7" cy="108.8" r="1.55" fill="#d3ecd0" stroke="#5aa552" stroke-width="1.05"/>
<circle cx="277.5" cy="108.8" r="1.55" fill="#d3ecd0" stroke="#5aa552" stroke-width="1.05"/>
<circle cx="285.4" cy="108.8" r="1.55" fill="#d3ecd0" stroke="#5aa552" stroke-width="1.05"/>
<circle cx="293.4" cy="108.8" r="1.55" fill="#d3ecd0" stroke="#5aa552" stroke-width="1.05"/>
<circle cx="301.4" cy="108.8" r="1.55" fill="#d3ecd0" stroke="#5aa552" stroke-width="1.05"/>
<circle cx="264.0" cy="123.7" r="1.55" fill="#d3ecd0" stroke="#5aa552" stroke-width="1.05"/>
<circle cx="271.9" cy="123.7" r="1.55" fill="#d3ecd0" stroke="#5aa552" stroke-width="1.05"/>
<circle cx="279.9" cy="123.7" r="1.55" fill="#d3ecd0" stroke="#5aa552" stroke-width="1.05"/>
<circle cx="287.9" cy="123.7" r="1.55" fill="#d3ecd0" stroke="#5aa552" stroke-width="1.05"/>
<circle cx="295.9" cy="123.7" r="1.55" fill="#d3ecd0" stroke="#5aa552" stroke-width="1.05"/>
<polygon points="266.40,155.4 268.80,147.2 309.20,147.2 306.80,155.4" fill="#b0b0b4" stroke="#9a9aa0" stroke-width="0.5"/>
<polygon points="279.00,147.2 283.80,147.2 285.80,151.30 281.40,155.4 276.60,155.4 274.60,151.30" fill="#8a1296" stroke="#6e0e50" stroke-width="0.6"/>
<circle cx="279.00" cy="147.20" r="0.75" fill="#d02030"/>
<circle cx="283.80" cy="147.20" r="0.75" fill="#d02030"/>
<circle cx="281.40" cy="155.40" r="0.75" fill="#d02030"/>
<circle cx="276.60" cy="155.40" r="0.75" fill="#d02030"/>
<polygon points="294.10,147.2 298.90,147.2 300.90,151.30 296.50,155.4 291.70,155.4 289.70,151.30" fill="#8a1296" stroke="#6e0e50" stroke-width="0.6"/>
<circle cx="294.10" cy="147.20" r="0.75" fill="#d02030"/>
<circle cx="298.90" cy="147.20" r="0.75" fill="#d02030"/>
<circle cx="296.50" cy="155.40" r="0.75" fill="#d02030"/>
<circle cx="291.70" cy="155.40" r="0.75" fill="#d02030"/>
<circle cx="268.80" cy="147.20" r="0.75" fill="#d02030"/>
<circle cx="266.40" cy="155.40" r="0.75" fill="#d02030"/>
<circle cx="309.20" cy="147.20" r="0.75" fill="#d02030"/>
<circle cx="306.80" cy="155.40" r="0.75" fill="#d02030"/>
<line x1="288.80" y1="147.2" x2="286.40" y2="155.4" stroke="#8e8e94" stroke-width="0.5"/>
<circle cx="269.0" cy="158.8" r="1.55" fill="#d3ecd0" stroke="#5aa552" stroke-width="1.05"/>
<circle cx="276.9" cy="158.8" r="1.55" fill="#d3ecd0" stroke="#5aa552" stroke-width="1.05"/>
<circle cx="284.9" cy="158.8" r="1.55" fill="#d3ecd0" stroke="#5aa552" stroke-width="1.05"/>
<circle cx="292.9" cy="158.8" r="1.55" fill="#d3ecd0" stroke="#5aa552" stroke-width="1.05"/>
<circle cx="300.9" cy="158.8" r="1.55" fill="#d3ecd0" stroke="#5aa552" stroke-width="1.05"/>
<polygon points="261.30,170.9 263.90,162.9 304.50,162.9 301.90,170.9" fill="#b0b0b4" stroke="#9a9aa0" stroke-width="0.5"/>
<polygon points="274.50,162.9 279.30,162.9 281.20,166.90 276.70,170.9 271.90,170.9 270.00,166.90" fill="#8a1296" stroke="#6e0e50" stroke-width="0.6"/>
<circle cx="274.50" cy="162.90" r="0.75" fill="#d02030"/>
<circle cx="279.30" cy="162.90" r="0.75" fill="#d02030"/>
<circle cx="276.70" cy="170.90" r="0.75" fill="#d02030"/>
<circle cx="271.90" cy="170.90" r="0.75" fill="#d02030"/>
<polygon points="289.50,162.9 294.30,162.9 296.20,166.90 291.70,170.9 286.90,170.9 285.00,166.90" fill="#8a1296" stroke="#6e0e50" stroke-width="0.6"/>
<circle cx="289.50" cy="162.90" r="0.75" fill="#d02030"/>
<circle cx="294.30" cy="162.90" r="0.75" fill="#d02030"/>
<circle cx="291.70" cy="170.90" r="0.75" fill="#d02030"/>
<circle cx="286.90" cy="170.90" r="0.75" fill="#d02030"/>
<circle cx="263.90" cy="162.90" r="0.75" fill="#d02030"/>
<circle cx="261.30" cy="170.90" r="0.75" fill="#d02030"/>
<circle cx="304.50" cy="162.90" r="0.75" fill="#d02030"/>
<circle cx="301.90" cy="170.90" r="0.75" fill="#d02030"/>
<line x1="284.00" y1="162.9" x2="281.40" y2="170.9" stroke="#8e8e94" stroke-width="0.5"/>
<circle cx="263.9" cy="174.6" r="1.55" fill="#d3ecd0" stroke="#5aa552" stroke-width="1.05"/>
<circle cx="271.9" cy="174.6" r="1.55" fill="#d3ecd0" stroke="#5aa552" stroke-width="1.05"/>
<circle cx="279.9" cy="174.6" r="1.55" fill="#d3ecd0" stroke="#5aa552" stroke-width="1.05"/>
<circle cx="287.9" cy="174.6" r="1.55" fill="#d3ecd0" stroke="#5aa552" stroke-width="1.05"/>
<circle cx="295.9" cy="174.6" r="1.55" fill="#d3ecd0" stroke="#5aa552" stroke-width="1.05"/>
<polygon points="257.20,186.2 259.50,178.6 299.30,178.6 297.00,186.2" fill="#b0b0b4" stroke="#9a9aa0" stroke-width="0.5"/>
<polygon points="268.55,178.6 273.35,178.6 275.40,182.40 271.05,186.2 266.25,186.2 264.20,182.40" fill="#8a1296" stroke="#6e0e50" stroke-width="0.6"/>
<circle cx="268.55" cy="178.60" r="0.75" fill="#d02030"/>
<circle cx="273.35" cy="178.60" r="0.75" fill="#d02030"/>
<circle cx="271.05" cy="186.20" r="0.75" fill="#d02030"/>
<circle cx="266.25" cy="186.20" r="0.75" fill="#d02030"/>
<polygon points="283.95,178.6 288.75,178.6 290.80,182.40 286.45,186.2 281.65,186.2 279.60,182.40" fill="#8a1296" stroke="#6e0e50" stroke-width="0.6"/>
<circle cx="283.95" cy="178.60" r="0.75" fill="#d02030"/>
<circle cx="288.75" cy="178.60" r="0.75" fill="#d02030"/>
<circle cx="286.45" cy="186.20" r="0.75" fill="#d02030"/>
<circle cx="281.65" cy="186.20" r="0.75" fill="#d02030"/>
<circle cx="259.50" cy="178.60" r="0.75" fill="#d02030"/>
<circle cx="257.20" cy="186.20" r="0.75" fill="#d02030"/>
<circle cx="299.30" cy="178.60" r="0.75" fill="#d02030"/>
<circle cx="297.00" cy="186.20" r="0.75" fill="#d02030"/>
<line x1="279.20" y1="178.6" x2="276.90" y2="186.2" stroke="#8e8e94" stroke-width="0.5"/>
<polygon points="257.3,233.8 269.5,196.6 309.8,196.6 297.6,233.8" fill="#9a1ca6"/>
<line x1="269.50" y1="196.6" x2="309.80" y2="196.6" stroke="#e25cb8" stroke-width="0.7"/>
<line x1="267.07" y1="204.0" x2="307.37" y2="204.0" stroke="#e25cb8" stroke-width="0.7"/>
<line x1="264.61" y1="211.5" x2="304.91" y2="211.5" stroke="#e25cb8" stroke-width="0.7"/>
<line x1="262.15" y1="219.0" x2="302.45" y2="219.0" stroke="#e25cb8" stroke-width="0.7"/>
<line x1="259.73" y1="226.4" x2="300.03" y2="226.4" stroke="#e25cb8" stroke-width="0.7"/>
<line x1="257.30" y1="233.8" x2="297.60" y2="233.8" stroke="#e25cb8" stroke-width="0.7"/>
<line x1="269.50" y1="196.6" x2="257.30" y2="233.8" stroke="#e25cb8" stroke-width="0.6"/>
<line x1="277.56" y1="196.6" x2="265.36" y2="233.8" stroke="#e25cb8" stroke-width="0.6"/>
<line x1="285.62" y1="196.6" x2="273.42" y2="233.8" stroke="#e25cb8" stroke-width="0.6"/>
<line x1="293.68" y1="196.6" x2="281.48" y2="233.8" stroke="#e25cb8" stroke-width="0.6"/>
<line x1="301.74" y1="196.6" x2="289.54" y2="233.8" stroke="#e25cb8" stroke-width="0.6"/>
<line x1="309.80" y1="196.6" x2="297.60" y2="233.8" stroke="#e25cb8" stroke-width="0.6"/>
<polygon points="272.90,211.4 275.80,204.9 282.10,204.9 279.20,211.4" fill="#abb9b5" stroke="#c4b4c8" stroke-width="1.1" stroke-linejoin="round"/>
<polygon points="288.60,211.4 291.40,204.9 297.70,204.9 294.90,211.4" fill="#abb9b5" stroke="#c4b4c8" stroke-width="1.1" stroke-linejoin="round"/>
<polygon points="268.40,226.3 270.60,219.5 276.90,219.5 274.70,226.3" fill="#abb9b5" stroke="#c4b4c8" stroke-width="1.1" stroke-linejoin="round"/>
<polygon points="283.80,226.3 285.80,219.5 292.10,219.5 290.10,226.3" fill="#abb9b5" stroke="#c4b4c8" stroke-width="1.1" stroke-linejoin="round"/>
<circle cx="269.50" cy="196.60" r="0.75" fill="#d02030"/>
<circle cx="277.56" cy="196.60" r="0.75" fill="#d02030"/>
<circle cx="285.62" cy="196.60" r="0.75" fill="#d02030"/>
<circle cx="293.68" cy="196.60" r="0.75" fill="#d02030"/>
<circle cx="301.74" cy="196.60" r="0.75" fill="#d02030"/>
<circle cx="309.80" cy="196.60" r="0.75" fill="#d02030"/>
<circle cx="267.07" cy="204.00" r="0.75" fill="#d02030"/>
<circle cx="307.37" cy="204.00" r="0.75" fill="#d02030"/>
<circle cx="264.61" cy="211.50" r="0.75" fill="#d02030"/>
<circle cx="304.91" cy="211.50" r="0.75" fill="#d02030"/>
<circle cx="262.15" cy="219.00" r="0.75" fill="#d02030"/>
<circle cx="302.45" cy="219.00" r="0.75" fill="#d02030"/>
<circle cx="259.73" cy="226.40" r="0.75" fill="#d02030"/>
<circle cx="300.03" cy="226.40" r="0.75" fill="#d02030"/>
<circle cx="257.30" cy="233.80" r="0.75" fill="#d02030"/>
<circle cx="265.36" cy="233.80" r="0.75" fill="#d02030"/>
<circle cx="273.42" cy="233.80" r="0.75" fill="#d02030"/>
<circle cx="281.48" cy="233.80" r="0.75" fill="#d02030"/>
<circle cx="289.54" cy="233.80" r="0.75" fill="#d02030"/>
<circle cx="297.60" cy="233.80" r="0.75" fill="#d02030"/>
<rect x="454.9" y="30.12" width="15.6" height="186.18" fill="#3abfc2"/>
<rect x="470.5" y="135.79" width="15.4" height="80.51" fill="#7f7f00"/>
<rect x="485.9" y="170.70" width="15.6" height="45.60" fill="#880088"/>
<rect x="501.9" y="197.92" width="15" height="18.38" fill="#b3b3b3"/>
<rect x="450.6" y="19.8" width="68.1" height="196.5" fill="none" stroke="#222" stroke-width="1.4"/>
<line x1="448.0" y1="216.30" x2="450.6" y2="216.30" stroke="#222" stroke-width="1.1"/>
<line x1="448.40000000000003" y1="202.05" x2="450.6" y2="202.05" stroke="#222" stroke-width="1.1"/>
<line x1="448.0" y1="187.80" x2="450.6" y2="187.80" stroke="#222" stroke-width="1.1"/>
<line x1="448.40000000000003" y1="173.55" x2="450.6" y2="173.55" stroke="#222" stroke-width="1.1"/>
<line x1="448.0" y1="159.30" x2="450.6" y2="159.30" stroke="#222" stroke-width="1.1"/>
<line x1="448.40000000000003" y1="145.05" x2="450.6" y2="145.05" stroke="#222" stroke-width="1.1"/>
<line x1="448.0" y1="130.80" x2="450.6" y2="130.80" stroke="#222" stroke-width="1.1"/>
<line x1="448.40000000000003" y1="116.55" x2="450.6" y2="116.55" stroke="#222" stroke-width="1.1"/>
<line x1="448.0" y1="102.30" x2="450.6" y2="102.30" stroke="#222" stroke-width="1.1"/>
<line x1="448.40000000000003" y1="88.05" x2="450.6" y2="88.05" stroke="#222" stroke-width="1.1"/>
<line x1="448.0" y1="73.80" x2="450.6" y2="73.80" stroke="#222" stroke-width="1.1"/>
<line x1="448.40000000000003" y1="59.55" x2="450.6" y2="59.55" stroke="#222" stroke-width="1.1"/>
<line x1="448.0" y1="45.30" x2="450.6" y2="45.30" stroke="#222" stroke-width="1.1"/>
<line x1="448.40000000000003" y1="31.05" x2="450.6" y2="31.05" stroke="#222" stroke-width="1.1"/>
<g fill="#1a1a1a" stroke="#1a1a1a" stroke-width="0.3" font-size="10.6">
<text x="428.6" y="218.00">0</text>
<text x="428.6" y="191.60">0.4</text>
<text x="428.6" y="163.10">0.8</text>
<text x="428.6" y="134.60">1.2</text>
<text x="428.6" y="106.10">1.6</text>
<text x="428.6" y="77.60">2</text>
<text x="428.6" y="49.10">2.4</text>
<text transform="translate(422.6,122.5) rotate(-90)" text-anchor="middle" font-size="10.8" textLength="39.5" lengthAdjust="spacingAndGlyphs">Content</text>
<text x="497" y="42.6" text-anchor="middle" textLength="41" lengthAdjust="spacingAndGlyphs">Excess Li</text>
<text x="496.8" y="56.4" text-anchor="middle" textLength="35" lengthAdjust="spacingAndGlyphs">in shell</text>
<text x="497" y="69.8" text-anchor="middle" textLength="42" lengthAdjust="spacingAndGlyphs">(Li2CO3)</text>
</g>
<path d="M470.4,30.9 Q473.9,30.9 473.9,34 L473.9,79 Q473.9,82.1 477.6,82.3 Q473.9,82.5 473.9,85.6 L473.9,129.8 Q473.9,133.1 470.4,133.1" fill="none" stroke="#111" stroke-width="1.9"/>
<g stroke-width="0.15" font-size="11">
<text transform="translate(458.4,223.6) rotate(-90)" text-anchor="end" fill="#3abfc2" stroke="#3abfc2" textLength="72.5" lengthAdjust="spacingAndGlyphs">Calculated Li in</text>
<text transform="translate(472.0,223.8) rotate(-90)" text-anchor="end" fill="#3abfc2" stroke="#3abfc2" textLength="69" lengthAdjust="spacingAndGlyphs">surface of LLO</text>
<text transform="translate(485.2,223.0) rotate(-90)" text-anchor="end" fill="#7f7f00" stroke="#7f7f00" textLength="93" lengthAdjust="spacingAndGlyphs">Calculated Li in LLO</text>
<text x="489.6" y="230.6" fill="#7a0a7a" stroke="#7a0a7a" textLength="16" lengthAdjust="spacingAndGlyphs">Mn</text>
<text x="507.2" y="230.6" fill="#111" stroke="#111" textLength="11" lengthAdjust="spacingAndGlyphs">Ni</text>
</g>
</svg></body></html>
